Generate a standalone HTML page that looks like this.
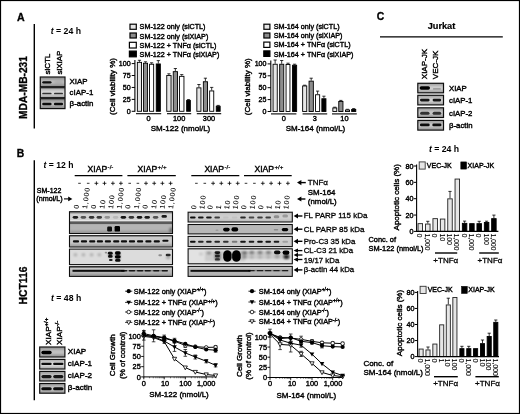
<!DOCTYPE html>
<html lang="en"><head><meta charset="utf-8"><title>Figure</title>
<style>
html,body{margin:0;padding:0;background:#fff;}
body{width:520px;height:414px;overflow:hidden;}
svg{display:block;font-family:"Liberation Sans", sans-serif;}
text{white-space:pre;}
</style></head><body>
<svg width="520" height="414" viewBox="0 0 520 414">
<defs>
<filter id="b1" x="-50%" y="-100%" width="200%" height="300%"><feGaussianBlur stdDeviation="0.45"/></filter>
<filter id="b2" x="-50%" y="-100%" width="200%" height="300%"><feGaussianBlur stdDeviation="0.8"/></filter>
<filter id="b3" x="-50%" y="-100%" width="200%" height="300%"><feGaussianBlur stdDeviation="1.3"/></filter>
<filter id="tb" x="-5%" y="-5%" width="110%" height="110%"><feGaussianBlur stdDeviation="0.35"/></filter>
</defs>
<rect x="0" y="0" width="520" height="414" fill="#fff"/>
<rect x="0.5" y="0.5" width="519" height="413" fill="none" stroke="#000" stroke-width="1.2"/>
<g filter="url(#tb)">

<text x="16.90" y="20.99" font-size="10.6" font-weight="bold" stroke="#000" stroke-width="0.3">A</text>
<line x1="34.30" y1="24.00" x2="34.30" y2="128.50" stroke="#000" stroke-width="1.4" />
<text transform="translate(23.00,87.50) rotate(-90)" x="0" y="3.65" font-size="10.2" text-anchor="middle" font-weight="bold" stroke="#000" stroke-width="0.3">MDA-MB-231</text>
<text x="50.80" y="33.91" font-size="8.7" font-weight="bold"><tspan font-style="italic">t</tspan> = 24 h</text>
<text transform="translate(46.90,74.60) rotate(-90)" x="0" y="2.86" font-size="8" stroke="#000" stroke-width="0.4">siCTL</text>
<text transform="translate(58.80,74.60) rotate(-90)" x="0" y="2.86" font-size="8" stroke="#000" stroke-width="0.4">siXIAP</text>
<rect x="40.30" y="77.00" width="24.70" height="9.70" fill="#acacac" stroke="none" stroke-width="1.0" />
<clipPath id="c1"><rect x="40.30" y="77.00" width="24.70" height="9.70"/></clipPath>
<g clip-path="url(#c1)">
<rect x="40.30" y="77.00" width="24.70" height="1.80" fill="#000" stroke="none" stroke-width="1.0" opacity="0.22" filter="url(#b2)"/>
<rect x="40.30" y="84.90" width="24.70" height="1.80" fill="#000" stroke="none" stroke-width="1.0" opacity="0.22" filter="url(#b2)"/>
<rect x="40.30" y="79.91" width="24.70" height="3.88" fill="#fff" stroke="none" stroke-width="1.0" opacity="0.2" filter="url(#b2)"/>
<rect x="42.30" y="81.15" width="9.20" height="2.40" rx="1.20" fill="#000" opacity="0.95" filter="url(#b1)"/>
<rect x="54.50" y="81.45" width="8.00" height="1.60" rx="0.80" fill="#000" opacity="0.15" filter="url(#b2)"/>
</g>
<rect x="40.30" y="77.00" width="24.70" height="9.70" fill="none" stroke="#111" stroke-width="1.2" />
<text x="69.60" y="83.88" font-size="7.9" stroke="#000" stroke-width="0.4">XIAP</text>
<rect x="40.30" y="87.70" width="24.70" height="10.00" fill="#cccccc" stroke="none" stroke-width="1.0" />
<clipPath id="c2"><rect x="40.30" y="87.70" width="24.70" height="10.00"/></clipPath>
<g clip-path="url(#c2)">
<rect x="40.30" y="87.70" width="24.70" height="1.80" fill="#000" stroke="none" stroke-width="1.0" opacity="0.22" filter="url(#b2)"/>
<rect x="40.30" y="95.90" width="24.70" height="1.80" fill="#000" stroke="none" stroke-width="1.0" opacity="0.22" filter="url(#b2)"/>
<rect x="40.30" y="90.70" width="24.70" height="4.00" fill="#fff" stroke="none" stroke-width="1.0" opacity="0.2" filter="url(#b2)"/>
<rect x="42.20" y="92.65" width="9.40" height="1.70" rx="0.85" fill="#000" opacity="0.75" filter="url(#b1)"/>
<rect x="54.00" y="92.65" width="9.00" height="1.70" rx="0.85" fill="#000" opacity="0.75" filter="url(#b1)"/>
</g>
<rect x="40.30" y="87.70" width="24.70" height="10.00" fill="none" stroke="#111" stroke-width="1.2" />
<text x="69.60" y="94.73" font-size="7.9" stroke="#000" stroke-width="0.4">cIAP-1</text>
<rect x="40.30" y="98.70" width="24.70" height="9.90" fill="#a8a8a8" stroke="none" stroke-width="1.0" />
<clipPath id="c3"><rect x="40.30" y="98.70" width="24.70" height="9.90"/></clipPath>
<g clip-path="url(#c3)">
<rect x="40.30" y="98.70" width="24.70" height="1.80" fill="#000" stroke="none" stroke-width="1.0" opacity="0.22" filter="url(#b2)"/>
<rect x="40.30" y="106.80" width="24.70" height="1.80" fill="#000" stroke="none" stroke-width="1.0" opacity="0.22" filter="url(#b2)"/>
<rect x="40.30" y="101.67" width="24.70" height="3.96" fill="#fff" stroke="none" stroke-width="1.0" opacity="0.2" filter="url(#b2)"/>
<rect x="42.20" y="102.65" width="9.40" height="2.60" rx="1.30" fill="#000" opacity="0.95" filter="url(#b1)"/>
<rect x="53.90" y="102.65" width="9.20" height="2.60" rx="1.30" fill="#000" opacity="0.95" filter="url(#b1)"/>
</g>
<rect x="40.30" y="98.70" width="24.70" height="9.90" fill="none" stroke="#111" stroke-width="1.2" />
<text x="69.60" y="105.68" font-size="7.9" stroke="#000" stroke-width="0.4">β-actin</text>
<line x1="134.90" y1="60.10" x2="134.90" y2="111.80" stroke="#000" stroke-width="1.1" />
<line x1="131.70" y1="63.60" x2="134.90" y2="63.60" stroke="#000" stroke-width="1.0" />
<text x="130.60" y="66.14" font-size="7.1" text-anchor="end" stroke="#000" stroke-width="0.4">100</text>
<line x1="131.70" y1="75.53" x2="134.90" y2="75.53" stroke="#000" stroke-width="1.0" />
<text x="130.60" y="78.07" font-size="7.1" text-anchor="end" stroke="#000" stroke-width="0.4">75</text>
<line x1="131.70" y1="87.45" x2="134.90" y2="87.45" stroke="#000" stroke-width="1.0" />
<text x="130.60" y="89.99" font-size="7.1" text-anchor="end" stroke="#000" stroke-width="0.4">50</text>
<line x1="131.70" y1="99.38" x2="134.90" y2="99.38" stroke="#000" stroke-width="1.0" />
<text x="130.60" y="101.92" font-size="7.1" text-anchor="end" stroke="#000" stroke-width="0.4">25</text>
<line x1="131.70" y1="111.30" x2="134.90" y2="111.30" stroke="#000" stroke-width="1.0" />
<text x="130.60" y="113.84" font-size="7.1" text-anchor="end" stroke="#000" stroke-width="0.4">0</text>
<line x1="139.45" y1="60.30" x2="139.45" y2="61.90" stroke="#000" stroke-width="0.8" />
<line x1="137.85" y1="60.30" x2="141.05" y2="60.30" stroke="#000" stroke-width="0.8" />
<rect x="137.35" y="62.35" width="4.20" height="48.95" fill="#e6e6e6" stroke="#000" stroke-width="0.9" />
<line x1="145.50" y1="61.80" x2="145.50" y2="62.80" stroke="#000" stroke-width="0.8" />
<line x1="143.90" y1="61.80" x2="147.10" y2="61.80" stroke="#000" stroke-width="0.8" />
<rect x="143.45" y="63.25" width="4.10" height="48.05" fill="#8c8c8c" stroke="#000" stroke-width="0.9" />
<line x1="151.60" y1="62.80" x2="151.60" y2="63.80" stroke="#000" stroke-width="0.8" />
<line x1="150.00" y1="62.80" x2="153.20" y2="62.80" stroke="#000" stroke-width="0.8" />
<rect x="149.55" y="64.25" width="4.10" height="47.05" fill="#fff" stroke="#000" stroke-width="0.9" />
<line x1="158.30" y1="60.60" x2="158.30" y2="63.50" stroke="#000" stroke-width="0.8" />
<line x1="156.70" y1="60.60" x2="159.90" y2="60.60" stroke="#000" stroke-width="0.8" />
<rect x="156.25" y="63.95" width="4.10" height="47.35" fill="#000" stroke="#000" stroke-width="0.9" />
<line x1="168.90" y1="73.80" x2="168.90" y2="75.00" stroke="#000" stroke-width="0.8" />
<line x1="167.30" y1="73.80" x2="170.50" y2="73.80" stroke="#000" stroke-width="0.8" />
<rect x="166.75" y="75.45" width="4.30" height="35.85" fill="#e6e6e6" stroke="#000" stroke-width="0.9" />
<line x1="175.35" y1="68.50" x2="175.35" y2="71.20" stroke="#000" stroke-width="0.8" />
<line x1="173.75" y1="68.50" x2="176.95" y2="68.50" stroke="#000" stroke-width="0.8" />
<rect x="173.25" y="71.65" width="4.20" height="39.65" fill="#8c8c8c" stroke="#000" stroke-width="0.9" />
<line x1="181.75" y1="74.60" x2="181.75" y2="75.90" stroke="#000" stroke-width="0.8" />
<line x1="180.15" y1="74.60" x2="183.35" y2="74.60" stroke="#000" stroke-width="0.8" />
<rect x="179.55" y="76.35" width="4.40" height="34.95" fill="#fff" stroke="#000" stroke-width="0.9" />
<line x1="188.50" y1="99.60" x2="188.50" y2="100.00" stroke="#000" stroke-width="0.8" />
<line x1="186.90" y1="99.60" x2="190.10" y2="99.60" stroke="#000" stroke-width="0.8" />
<rect x="186.65" y="100.45" width="3.70" height="10.85" fill="#000" stroke="#000" stroke-width="0.9" />
<line x1="198.90" y1="84.50" x2="198.90" y2="87.40" stroke="#000" stroke-width="0.8" />
<line x1="197.30" y1="84.50" x2="200.50" y2="84.50" stroke="#000" stroke-width="0.8" />
<rect x="196.85" y="87.85" width="4.10" height="23.45" fill="#e6e6e6" stroke="#000" stroke-width="0.9" />
<line x1="205.40" y1="78.20" x2="205.40" y2="81.30" stroke="#000" stroke-width="0.8" />
<line x1="203.80" y1="78.20" x2="207.00" y2="78.20" stroke="#000" stroke-width="0.8" />
<rect x="203.35" y="81.75" width="4.10" height="29.55" fill="#8c8c8c" stroke="#000" stroke-width="0.9" />
<line x1="211.70" y1="87.40" x2="211.70" y2="90.50" stroke="#000" stroke-width="0.8" />
<line x1="210.10" y1="87.40" x2="213.30" y2="87.40" stroke="#000" stroke-width="0.8" />
<rect x="209.65" y="90.95" width="4.10" height="20.35" fill="#fff" stroke="#000" stroke-width="0.9" />
<line x1="218.20" y1="105.40" x2="218.20" y2="105.80" stroke="#000" stroke-width="0.8" />
<line x1="216.60" y1="105.40" x2="219.80" y2="105.40" stroke="#000" stroke-width="0.8" />
<rect x="216.25" y="106.25" width="3.90" height="5.05" fill="#000" stroke="#000" stroke-width="0.9" />
<line x1="136.00" y1="113.70" x2="161.20" y2="113.70" stroke="#000" stroke-width="1.1" />
<text x="148.60" y="121.15" font-size="7.4" text-anchor="middle" stroke="#000" stroke-width="0.4">0</text>
<line x1="167.00" y1="113.70" x2="191.20" y2="113.70" stroke="#000" stroke-width="1.1" />
<text x="179.10" y="121.15" font-size="7.4" text-anchor="middle" stroke="#000" stroke-width="0.4">100</text>
<line x1="196.80" y1="113.70" x2="221.20" y2="113.70" stroke="#000" stroke-width="1.1" />
<text x="209.00" y="121.15" font-size="7.4" text-anchor="middle" stroke="#000" stroke-width="0.4">300</text>
<text x="180.50" y="131.16" font-size="8" text-anchor="middle" stroke="#000" stroke-width="0.4">SM-122 (nmol/L)</text>
<text transform="translate(112.60,86.45) rotate(-90)" x="0" y="2.86" font-size="8" text-anchor="middle" stroke="#000" stroke-width="0.4">(Cell viability %)</text>
<rect x="130.00" y="24.20" width="6.30" height="5.10" fill="#e6e6e6" stroke="#000" stroke-width="1.2" />
<text x="139.60" y="29.48" font-size="7.2" stroke="#000" stroke-width="0.4">SM-122 only (siCTL)</text>
<rect x="130.00" y="33.00" width="6.30" height="5.00" fill="#8c8c8c" stroke="#000" stroke-width="1.2" />
<text x="139.60" y="38.78" font-size="7.2" stroke="#000" stroke-width="0.4">SM-122 only (siXIAP)</text>
<rect x="129.40" y="42.30" width="6.90" height="5.70" fill="#fff" stroke="#000" stroke-width="1.2" />
<text x="139.60" y="48.28" font-size="7.2" stroke="#000" stroke-width="0.4">SM-122 + TNFα (siCTL)</text>
<rect x="129.40" y="51.10" width="6.90" height="5.70" fill="#000" stroke="#000" stroke-width="1.2" />
<text x="139.60" y="56.98" font-size="7.2" stroke="#000" stroke-width="0.4">SM-122 + TNFα (siXIAP)</text>
<line x1="270.80" y1="60.40" x2="270.80" y2="112.00" stroke="#000" stroke-width="1.1" />
<line x1="267.60" y1="63.90" x2="270.80" y2="63.90" stroke="#000" stroke-width="1.0" />
<text x="266.50" y="66.44" font-size="7.1" text-anchor="end" stroke="#000" stroke-width="0.4">100</text>
<line x1="267.60" y1="75.80" x2="270.80" y2="75.80" stroke="#000" stroke-width="1.0" />
<text x="266.50" y="78.34" font-size="7.1" text-anchor="end" stroke="#000" stroke-width="0.4">75</text>
<line x1="267.60" y1="87.70" x2="270.80" y2="87.70" stroke="#000" stroke-width="1.0" />
<text x="266.50" y="90.24" font-size="7.1" text-anchor="end" stroke="#000" stroke-width="0.4">50</text>
<line x1="267.60" y1="99.60" x2="270.80" y2="99.60" stroke="#000" stroke-width="1.0" />
<text x="266.50" y="102.14" font-size="7.1" text-anchor="end" stroke="#000" stroke-width="0.4">25</text>
<line x1="267.60" y1="111.50" x2="270.80" y2="111.50" stroke="#000" stroke-width="1.0" />
<text x="266.50" y="114.04" font-size="7.1" text-anchor="end" stroke="#000" stroke-width="0.4">0</text>
<line x1="275.15" y1="60.00" x2="275.15" y2="63.80" stroke="#000" stroke-width="0.8" />
<line x1="273.55" y1="60.00" x2="276.75" y2="60.00" stroke="#000" stroke-width="0.8" />
<rect x="273.05" y="64.25" width="4.20" height="47.25" fill="#e6e6e6" stroke="#000" stroke-width="0.9" />
<line x1="281.70" y1="60.50" x2="281.70" y2="63.80" stroke="#000" stroke-width="0.8" />
<line x1="280.10" y1="60.50" x2="283.30" y2="60.50" stroke="#000" stroke-width="0.8" />
<rect x="279.65" y="64.25" width="4.10" height="47.25" fill="#8c8c8c" stroke="#000" stroke-width="0.9" />
<line x1="288.00" y1="63.20" x2="288.00" y2="64.00" stroke="#000" stroke-width="0.8" />
<line x1="286.40" y1="63.20" x2="289.60" y2="63.20" stroke="#000" stroke-width="0.8" />
<rect x="286.05" y="64.45" width="3.90" height="47.05" fill="#fff" stroke="#000" stroke-width="0.9" />
<line x1="294.60" y1="64.20" x2="294.60" y2="64.80" stroke="#000" stroke-width="0.8" />
<line x1="293.00" y1="64.20" x2="296.20" y2="64.20" stroke="#000" stroke-width="0.8" />
<rect x="292.55" y="65.25" width="4.10" height="46.25" fill="#000" stroke="#000" stroke-width="0.9" />
<line x1="304.70" y1="85.20" x2="304.70" y2="85.50" stroke="#000" stroke-width="0.8" />
<line x1="303.10" y1="85.20" x2="306.30" y2="85.20" stroke="#000" stroke-width="0.8" />
<rect x="302.65" y="85.95" width="4.10" height="25.55" fill="#e6e6e6" stroke="#000" stroke-width="0.9" />
<line x1="311.20" y1="78.20" x2="311.20" y2="80.70" stroke="#000" stroke-width="0.8" />
<line x1="309.60" y1="78.20" x2="312.80" y2="78.20" stroke="#000" stroke-width="0.8" />
<rect x="309.05" y="81.15" width="4.30" height="30.35" fill="#8c8c8c" stroke="#000" stroke-width="0.9" />
<line x1="317.60" y1="91.10" x2="317.60" y2="94.30" stroke="#000" stroke-width="0.8" />
<line x1="316.00" y1="91.10" x2="319.20" y2="91.10" stroke="#000" stroke-width="0.8" />
<rect x="315.55" y="94.75" width="4.10" height="16.75" fill="#fff" stroke="#000" stroke-width="0.9" />
<line x1="323.90" y1="96.20" x2="323.90" y2="98.30" stroke="#000" stroke-width="0.8" />
<line x1="322.30" y1="96.20" x2="325.50" y2="96.20" stroke="#000" stroke-width="0.8" />
<rect x="321.85" y="98.75" width="4.10" height="12.75" fill="#000" stroke="#000" stroke-width="0.9" />
<line x1="334.80" y1="107.20" x2="334.80" y2="107.50" stroke="#000" stroke-width="0.8" />
<line x1="333.20" y1="107.20" x2="336.40" y2="107.20" stroke="#000" stroke-width="0.8" />
<rect x="332.85" y="107.95" width="3.90" height="3.55" fill="#e6e6e6" stroke="#000" stroke-width="0.9" />
<line x1="340.85" y1="100.40" x2="340.85" y2="101.00" stroke="#000" stroke-width="0.8" />
<line x1="339.25" y1="100.40" x2="342.45" y2="100.40" stroke="#000" stroke-width="0.8" />
<rect x="338.75" y="101.45" width="4.20" height="10.05" fill="#8c8c8c" stroke="#000" stroke-width="0.9" />
<line x1="347.50" y1="109.30" x2="347.50" y2="109.60" stroke="#000" stroke-width="0.8" />
<line x1="345.90" y1="109.30" x2="349.10" y2="109.30" stroke="#000" stroke-width="0.8" />
<rect x="345.45" y="110.05" width="4.10" height="1.45" fill="#fff" stroke="#000" stroke-width="0.9" />
<line x1="353.70" y1="108.60" x2="353.70" y2="109.00" stroke="#000" stroke-width="0.8" />
<line x1="352.10" y1="108.60" x2="355.30" y2="108.60" stroke="#000" stroke-width="0.8" />
<rect x="351.65" y="109.45" width="4.10" height="2.05" fill="#000" stroke="#000" stroke-width="0.9" />
<line x1="271.00" y1="113.90" x2="296.40" y2="113.90" stroke="#000" stroke-width="1.1" />
<text x="283.70" y="121.35" font-size="7.4" text-anchor="middle" stroke="#000" stroke-width="0.4">0</text>
<line x1="302.60" y1="113.90" x2="327.20" y2="113.90" stroke="#000" stroke-width="1.1" />
<text x="314.90" y="121.35" font-size="7.4" text-anchor="middle" stroke="#000" stroke-width="0.4">3</text>
<line x1="332.00" y1="113.90" x2="356.80" y2="113.90" stroke="#000" stroke-width="1.1" />
<text x="344.40" y="121.35" font-size="7.4" text-anchor="middle" stroke="#000" stroke-width="0.4">10</text>
<text x="315.50" y="131.36" font-size="8" text-anchor="middle" stroke="#000" stroke-width="0.4">SM-164 (nmol/L)</text>
<text transform="translate(247.40,86.70) rotate(-90)" x="0" y="2.86" font-size="8" text-anchor="middle" stroke="#000" stroke-width="0.4">(Cell viability %)</text>
<rect x="263.90" y="24.20" width="6.00" height="5.10" fill="#e6e6e6" stroke="#000" stroke-width="1.2" />
<text x="273.70" y="29.33" font-size="7.2" stroke="#000" stroke-width="0.4">SM-164 only (siCTL)</text>
<rect x="263.90" y="33.00" width="6.00" height="5.00" fill="#8c8c8c" stroke="#000" stroke-width="1.2" />
<text x="273.70" y="38.33" font-size="7.2" stroke="#000" stroke-width="0.4">SM-164 only (siXIAP)</text>
<rect x="263.80" y="42.10" width="6.10" height="5.30" fill="#fff" stroke="#000" stroke-width="1.2" />
<text x="273.70" y="47.48" font-size="7.2" stroke="#000" stroke-width="0.4">SM-164 + TNFα (siCTL)</text>
<rect x="263.80" y="50.90" width="6.10" height="5.50" fill="#000" stroke="#000" stroke-width="1.2" />
<text x="273.70" y="56.58" font-size="7.2" stroke="#000" stroke-width="0.4">SM-164 + TNFα (siXIAP)</text>
<text x="376.80" y="20.02" font-size="10.4" font-weight="bold" stroke="#000" stroke-width="0.3">C</text>
<text x="441.50" y="28.89" font-size="9.2" text-anchor="middle" font-weight="bold" stroke="#000" stroke-width="0.2">Jurkat</text>
<line x1="380.00" y1="36.80" x2="502.80" y2="36.80" stroke="#000" stroke-width="1.2" />
<text transform="translate(424.00,79.20) rotate(-90)" x="0" y="2.86" font-size="8" stroke="#000" stroke-width="0.4">XIAP-JK</text>
<text transform="translate(434.80,79.20) rotate(-90)" x="0" y="2.86" font-size="8" stroke="#000" stroke-width="0.4">VEC-JK</text>
<rect x="417.80" y="83.30" width="25.70" height="9.50" fill="#c2c2c2" stroke="none" stroke-width="1.0" />
<clipPath id="c4"><rect x="417.80" y="83.30" width="25.70" height="9.50"/></clipPath>
<g clip-path="url(#c4)">
<rect x="417.80" y="83.30" width="25.70" height="1.80" fill="#000" stroke="none" stroke-width="1.0" opacity="0.22" filter="url(#b2)"/>
<rect x="417.80" y="91.00" width="25.70" height="1.80" fill="#000" stroke="none" stroke-width="1.0" opacity="0.22" filter="url(#b2)"/>
<rect x="417.80" y="86.15" width="25.70" height="3.80" fill="#fff" stroke="none" stroke-width="1.0" opacity="0.2" filter="url(#b2)"/>
<rect x="419.60" y="86.35" width="10.40" height="3.40" rx="1.70" fill="#000" opacity="1.0" filter="url(#b1)"/>
<rect x="432.90" y="88.35" width="8.00" height="1.20" rx="0.60" fill="#000" opacity="0.3" filter="url(#b1)"/>
</g>
<rect x="417.80" y="83.30" width="25.70" height="9.50" fill="none" stroke="#111" stroke-width="1.2" />
<text x="449.00" y="90.94" font-size="7.8" stroke="#000" stroke-width="0.4">XIAP</text>
<rect x="417.80" y="95.30" width="25.70" height="9.60" fill="#c6c6c6" stroke="none" stroke-width="1.0" />
<clipPath id="c5"><rect x="417.80" y="95.30" width="25.70" height="9.60"/></clipPath>
<g clip-path="url(#c5)">
<rect x="417.80" y="95.30" width="25.70" height="1.80" fill="#000" stroke="none" stroke-width="1.0" opacity="0.22" filter="url(#b2)"/>
<rect x="417.80" y="103.10" width="25.70" height="1.80" fill="#000" stroke="none" stroke-width="1.0" opacity="0.22" filter="url(#b2)"/>
<rect x="417.80" y="98.18" width="25.70" height="3.84" fill="#fff" stroke="none" stroke-width="1.0" opacity="0.2" filter="url(#b2)"/>
<rect x="420.00" y="98.80" width="9.60" height="2.60" rx="1.30" fill="#000" opacity="0.9" filter="url(#b1)"/>
<rect x="432.60" y="98.80" width="8.60" height="2.60" rx="1.30" fill="#000" opacity="0.9" filter="url(#b1)"/>
</g>
<rect x="417.80" y="95.30" width="25.70" height="9.60" fill="none" stroke="#111" stroke-width="1.2" />
<text x="449.00" y="102.99" font-size="7.8" stroke="#000" stroke-width="0.4">cIAP-1</text>
<rect x="417.80" y="107.80" width="25.70" height="9.70" fill="#b8b8b8" stroke="none" stroke-width="1.0" />
<clipPath id="c6"><rect x="417.80" y="107.80" width="25.70" height="9.70"/></clipPath>
<g clip-path="url(#c6)">
<rect x="417.80" y="107.80" width="25.70" height="1.80" fill="#000" stroke="none" stroke-width="1.0" opacity="0.22" filter="url(#b2)"/>
<rect x="417.80" y="115.70" width="25.70" height="1.80" fill="#000" stroke="none" stroke-width="1.0" opacity="0.22" filter="url(#b2)"/>
<rect x="417.80" y="110.71" width="25.70" height="3.88" fill="#fff" stroke="none" stroke-width="1.0" opacity="0.2" filter="url(#b2)"/>
<rect x="420.10" y="111.65" width="9.40" height="3.00" rx="1.50" fill="#000" opacity="0.75" filter="url(#b1)"/>
<rect x="432.60" y="111.65" width="8.60" height="3.00" rx="1.50" fill="#000" opacity="0.75" filter="url(#b1)"/>
</g>
<rect x="417.80" y="107.80" width="25.70" height="9.70" fill="none" stroke="#111" stroke-width="1.2" />
<text x="449.00" y="115.54" font-size="7.8" stroke="#000" stroke-width="0.4">cIAP-2</text>
<rect x="417.80" y="120.40" width="25.70" height="9.70" fill="#bababa" stroke="none" stroke-width="1.0" />
<clipPath id="c7"><rect x="417.80" y="120.40" width="25.70" height="9.70"/></clipPath>
<g clip-path="url(#c7)">
<rect x="417.80" y="120.40" width="25.70" height="1.80" fill="#000" stroke="none" stroke-width="1.0" opacity="0.22" filter="url(#b2)"/>
<rect x="417.80" y="128.30" width="25.70" height="1.80" fill="#000" stroke="none" stroke-width="1.0" opacity="0.22" filter="url(#b2)"/>
<rect x="417.80" y="123.31" width="25.70" height="3.88" fill="#fff" stroke="none" stroke-width="1.0" opacity="0.2" filter="url(#b2)"/>
<rect x="419.90" y="123.55" width="9.80" height="2.80" rx="1.40" fill="#000" opacity="0.95" filter="url(#b1)"/>
<rect x="432.30" y="123.55" width="9.20" height="2.80" rx="1.40" fill="#000" opacity="0.95" filter="url(#b1)"/>
</g>
<rect x="417.80" y="120.40" width="25.70" height="9.70" fill="none" stroke="#111" stroke-width="1.2" />
<text x="449.00" y="128.14" font-size="7.8" stroke="#000" stroke-width="0.4">β-actin</text>
<text x="428.90" y="151.51" font-size="8.7" font-weight="bold"><tspan font-style="italic">t</tspan> = 24 h</text>
<line x1="416.60" y1="164.50" x2="416.60" y2="231.90" stroke="#000" stroke-width="1.1" />
<line x1="413.80" y1="166.00" x2="416.60" y2="166.00" stroke="#000" stroke-width="1.0" />
<text x="413.40" y="168.58" font-size="7.2" text-anchor="end" stroke="#000" stroke-width="0.4">80</text>
<line x1="413.80" y1="182.35" x2="416.60" y2="182.35" stroke="#000" stroke-width="1.0" />
<text x="413.40" y="184.93" font-size="7.2" text-anchor="end" stroke="#000" stroke-width="0.4">60</text>
<line x1="413.80" y1="198.70" x2="416.60" y2="198.70" stroke="#000" stroke-width="1.0" />
<text x="413.40" y="201.28" font-size="7.2" text-anchor="end" stroke="#000" stroke-width="0.4">40</text>
<line x1="413.80" y1="215.05" x2="416.60" y2="215.05" stroke="#000" stroke-width="1.0" />
<text x="413.40" y="217.63" font-size="7.2" text-anchor="end" stroke="#000" stroke-width="0.4">20</text>
<line x1="413.80" y1="231.40" x2="416.60" y2="231.40" stroke="#000" stroke-width="1.0" />
<text x="413.40" y="233.98" font-size="7.2" text-anchor="end" stroke="#000" stroke-width="0.4">0</text>
<rect x="418.05" y="223.65" width="4.50" height="7.75" fill="#e6e6e6" stroke="#222" stroke-width="0.9" />
<line x1="427.80" y1="221.30" x2="427.80" y2="223.60" stroke="#000" stroke-width="0.8" />
<line x1="426.20" y1="221.30" x2="429.40" y2="221.30" stroke="#000" stroke-width="0.8" />
<rect x="425.55" y="224.05" width="4.50" height="7.35" fill="#e6e6e6" stroke="#222" stroke-width="0.9" />
<rect x="432.95" y="218.65" width="4.50" height="12.75" fill="#e6e6e6" stroke="#222" stroke-width="0.9" />
<rect x="440.35" y="219.05" width="4.50" height="12.35" fill="#e6e6e6" stroke="#222" stroke-width="0.9" />
<line x1="450.00" y1="191.40" x2="450.00" y2="198.40" stroke="#000" stroke-width="0.8" />
<line x1="448.40" y1="191.40" x2="451.60" y2="191.40" stroke="#000" stroke-width="0.8" />
<rect x="447.75" y="198.85" width="4.50" height="32.55" fill="#e6e6e6" stroke="#222" stroke-width="0.9" />
<rect x="455.05" y="179.05" width="4.50" height="52.35" fill="#e6e6e6" stroke="#222" stroke-width="0.9" />
<line x1="464.60" y1="221.10" x2="464.60" y2="222.90" stroke="#000" stroke-width="0.8" />
<line x1="463.00" y1="221.10" x2="466.20" y2="221.10" stroke="#000" stroke-width="0.8" />
<rect x="462.35" y="223.35" width="4.50" height="8.05" fill="#000" stroke="#000" stroke-width="0.9" />
<rect x="469.65" y="223.65" width="4.50" height="7.75" fill="#000" stroke="#000" stroke-width="0.9" />
<line x1="479.20" y1="221.30" x2="479.20" y2="223.20" stroke="#000" stroke-width="0.8" />
<line x1="477.60" y1="221.30" x2="480.80" y2="221.30" stroke="#000" stroke-width="0.8" />
<rect x="476.95" y="223.65" width="4.50" height="7.75" fill="#000" stroke="#000" stroke-width="0.9" />
<line x1="486.60" y1="221.20" x2="486.60" y2="222.00" stroke="#000" stroke-width="0.8" />
<line x1="485.00" y1="221.20" x2="488.20" y2="221.20" stroke="#000" stroke-width="0.8" />
<rect x="484.35" y="222.45" width="4.50" height="8.95" fill="#000" stroke="#000" stroke-width="0.9" />
<line x1="493.90" y1="215.10" x2="493.90" y2="218.20" stroke="#000" stroke-width="0.8" />
<line x1="492.30" y1="215.10" x2="495.50" y2="215.10" stroke="#000" stroke-width="0.8" />
<rect x="491.65" y="218.65" width="4.50" height="12.75" fill="#000" stroke="#000" stroke-width="0.9" />
<line x1="416.60" y1="231.40" x2="498.40" y2="231.40" stroke="#000" stroke-width="1.1" />
<text transform="translate(420.10,233.40) rotate(90)" x="0" y="2.61" font-size="7.3" stroke="#000" stroke-width="0.1" letter-spacing="-0.3">0</text>
<text transform="translate(427.60,233.40) rotate(90)" x="0" y="2.61" font-size="7.3" stroke="#000" stroke-width="0.1" letter-spacing="-0.3">1,000</text>
<text transform="translate(435.00,233.40) rotate(90)" x="0" y="2.61" font-size="7.3" stroke="#000" stroke-width="0.1" letter-spacing="-0.3">0</text>
<text transform="translate(442.40,233.40) rotate(90)" x="0" y="2.61" font-size="7.3" stroke="#000" stroke-width="0.1" letter-spacing="-0.3">10</text>
<text transform="translate(449.80,233.40) rotate(90)" x="0" y="2.61" font-size="7.3" stroke="#000" stroke-width="0.1" letter-spacing="-0.3">100</text>
<text transform="translate(457.10,233.40) rotate(90)" x="0" y="2.61" font-size="7.3" stroke="#000" stroke-width="0.1" letter-spacing="-0.3">1,000</text>
<text transform="translate(464.40,233.40) rotate(90)" x="0" y="2.61" font-size="7.3" stroke="#000" stroke-width="0.1" letter-spacing="-0.3">0</text>
<text transform="translate(471.70,233.40) rotate(90)" x="0" y="2.61" font-size="7.3" stroke="#000" stroke-width="0.1" letter-spacing="-0.3">1,000</text>
<text transform="translate(479.00,233.40) rotate(90)" x="0" y="2.61" font-size="7.3" stroke="#000" stroke-width="0.1" letter-spacing="-0.3">0</text>
<text transform="translate(486.40,233.40) rotate(90)" x="0" y="2.61" font-size="7.3" stroke="#000" stroke-width="0.1" letter-spacing="-0.3">100</text>
<text transform="translate(493.70,233.40) rotate(90)" x="0" y="2.61" font-size="7.3" stroke="#000" stroke-width="0.1" letter-spacing="-0.3">1,000</text>
<text transform="translate(396.20,197.30) rotate(-90)" x="0" y="2.86" font-size="8" text-anchor="middle" stroke="#000" stroke-width="0.4">Apoptotic cells (%)</text>
<rect x="419.20" y="161.90" width="6.00" height="7.20" fill="#e6e6e6" stroke="#333" stroke-width="0.9" />
<text x="426.80" y="168.01" font-size="7.0" stroke="#000" stroke-width="0.4">VEC-JK</text>
<rect x="460.80" y="161.90" width="5.80" height="7.20" fill="#000" stroke="#000" stroke-width="0.5" />
<text x="467.60" y="168.01" font-size="7.0" stroke="#000" stroke-width="0.4">XIAP-JK</text>
<text x="368.50" y="242.05" font-size="7.4" stroke="#000" stroke-width="0.4">Conc. of</text>
<text x="368.50" y="250.65" font-size="7.4" stroke="#000" stroke-width="0.4">SM-122 (nmol/L)</text>
<line x1="435.00" y1="253.00" x2="457.20" y2="253.00" stroke="#000" stroke-width="1.4" />
<line x1="479.20" y1="253.00" x2="498.80" y2="253.00" stroke="#000" stroke-width="1.4" />
<text x="445.80" y="262.66" font-size="8" text-anchor="middle" stroke="#000" stroke-width="0.3">+TNFα</text>
<text x="490.00" y="262.66" font-size="8" text-anchor="middle" stroke="#000" stroke-width="0.3">+TNFα</text>
<line x1="417.60" y1="290.90" x2="417.60" y2="357.10" stroke="#000" stroke-width="1.1" />
<line x1="414.80" y1="292.40" x2="417.60" y2="292.40" stroke="#000" stroke-width="1.0" />
<text x="414.40" y="294.98" font-size="7.2" text-anchor="end" stroke="#000" stroke-width="0.4">80</text>
<line x1="414.80" y1="308.45" x2="417.60" y2="308.45" stroke="#000" stroke-width="1.0" />
<text x="414.40" y="311.03" font-size="7.2" text-anchor="end" stroke="#000" stroke-width="0.4">60</text>
<line x1="414.80" y1="324.50" x2="417.60" y2="324.50" stroke="#000" stroke-width="1.0" />
<text x="414.40" y="327.08" font-size="7.2" text-anchor="end" stroke="#000" stroke-width="0.4">40</text>
<line x1="414.80" y1="340.55" x2="417.60" y2="340.55" stroke="#000" stroke-width="1.0" />
<text x="414.40" y="343.13" font-size="7.2" text-anchor="end" stroke="#000" stroke-width="0.4">20</text>
<line x1="414.80" y1="356.60" x2="417.60" y2="356.60" stroke="#000" stroke-width="1.0" />
<text x="414.40" y="359.18" font-size="7.2" text-anchor="end" stroke="#000" stroke-width="0.4">0</text>
<rect x="419.05" y="349.05" width="4.10" height="7.55" fill="#e6e6e6" stroke="#222" stroke-width="0.9" />
<line x1="428.00" y1="347.00" x2="428.00" y2="349.50" stroke="#000" stroke-width="0.8" />
<line x1="426.40" y1="347.00" x2="429.60" y2="347.00" stroke="#000" stroke-width="0.8" />
<rect x="425.95" y="349.95" width="4.10" height="6.65" fill="#e6e6e6" stroke="#222" stroke-width="0.9" />
<rect x="432.85" y="344.05" width="4.10" height="12.55" fill="#e6e6e6" stroke="#222" stroke-width="0.9" />
<rect x="439.65" y="324.85" width="4.10" height="31.75" fill="#e6e6e6" stroke="#222" stroke-width="0.9" />
<line x1="448.30" y1="298.20" x2="448.30" y2="304.50" stroke="#000" stroke-width="0.8" />
<line x1="446.70" y1="298.20" x2="449.90" y2="298.20" stroke="#000" stroke-width="0.8" />
<rect x="446.25" y="304.95" width="4.10" height="51.65" fill="#e6e6e6" stroke="#222" stroke-width="0.9" />
<rect x="452.85" y="297.45" width="4.10" height="59.15" fill="#e6e6e6" stroke="#222" stroke-width="0.9" />
<line x1="461.90" y1="346.30" x2="461.90" y2="348.20" stroke="#000" stroke-width="0.8" />
<line x1="460.30" y1="346.30" x2="463.50" y2="346.30" stroke="#000" stroke-width="0.8" />
<rect x="459.85" y="348.65" width="4.10" height="7.95" fill="#000" stroke="#000" stroke-width="0.9" />
<line x1="468.80" y1="346.30" x2="468.80" y2="348.20" stroke="#000" stroke-width="0.8" />
<line x1="467.20" y1="346.30" x2="470.40" y2="346.30" stroke="#000" stroke-width="0.8" />
<rect x="466.75" y="348.65" width="4.10" height="7.95" fill="#000" stroke="#000" stroke-width="0.9" />
<rect x="473.55" y="348.65" width="4.10" height="7.95" fill="#000" stroke="#000" stroke-width="0.9" />
<line x1="482.50" y1="340.00" x2="482.50" y2="343.20" stroke="#000" stroke-width="0.8" />
<line x1="480.90" y1="340.00" x2="484.10" y2="340.00" stroke="#000" stroke-width="0.8" />
<rect x="480.45" y="343.65" width="4.10" height="12.95" fill="#000" stroke="#000" stroke-width="0.9" />
<line x1="489.20" y1="333.20" x2="489.20" y2="336.00" stroke="#000" stroke-width="0.8" />
<line x1="487.60" y1="333.20" x2="490.80" y2="333.20" stroke="#000" stroke-width="0.8" />
<rect x="487.15" y="336.45" width="4.10" height="20.15" fill="#000" stroke="#000" stroke-width="0.9" />
<line x1="495.80" y1="320.00" x2="495.80" y2="321.90" stroke="#000" stroke-width="0.8" />
<line x1="494.20" y1="320.00" x2="497.40" y2="320.00" stroke="#000" stroke-width="0.8" />
<rect x="493.75" y="322.35" width="4.10" height="34.25" fill="#000" stroke="#000" stroke-width="0.9" />
<line x1="417.60" y1="356.60" x2="499.00" y2="356.60" stroke="#000" stroke-width="1.1" />
<text transform="translate(420.90,358.60) rotate(90)" x="0" y="2.65" font-size="7.3999999999999995" stroke="#000" stroke-width="0.1" letter-spacing="-0.3">0</text>
<text transform="translate(427.80,358.60) rotate(90)" x="0" y="2.65" font-size="7.3999999999999995" stroke="#000" stroke-width="0.1" letter-spacing="-0.3">1,000</text>
<text transform="translate(434.70,358.60) rotate(90)" x="0" y="2.65" font-size="7.3999999999999995" stroke="#000" stroke-width="0.1" letter-spacing="-0.3">0</text>
<text transform="translate(441.50,358.60) rotate(90)" x="0" y="2.65" font-size="7.3999999999999995" stroke="#000" stroke-width="0.1" letter-spacing="-0.3">1</text>
<text transform="translate(448.10,358.60) rotate(90)" x="0" y="2.65" font-size="7.3999999999999995" stroke="#000" stroke-width="0.1" letter-spacing="-0.3">10</text>
<text transform="translate(454.70,358.60) rotate(90)" x="0" y="2.65" font-size="7.3999999999999995" stroke="#000" stroke-width="0.1" letter-spacing="-0.3">100</text>
<text transform="translate(461.70,358.60) rotate(90)" x="0" y="2.65" font-size="7.3999999999999995" stroke="#000" stroke-width="0.1" letter-spacing="-0.3">0</text>
<text transform="translate(468.60,358.60) rotate(90)" x="0" y="2.65" font-size="7.3999999999999995" stroke="#000" stroke-width="0.1" letter-spacing="-0.3">1,000</text>
<text transform="translate(475.40,358.60) rotate(90)" x="0" y="2.65" font-size="7.3999999999999995" stroke="#000" stroke-width="0.1" letter-spacing="-0.3">0</text>
<text transform="translate(482.30,358.60) rotate(90)" x="0" y="2.65" font-size="7.3999999999999995" stroke="#000" stroke-width="0.1" letter-spacing="-0.3">10</text>
<text transform="translate(489.00,358.60) rotate(90)" x="0" y="2.65" font-size="7.3999999999999995" stroke="#000" stroke-width="0.1" letter-spacing="-0.3">100</text>
<text transform="translate(495.60,358.60) rotate(90)" x="0" y="2.65" font-size="7.3999999999999995" stroke="#000" stroke-width="0.1" letter-spacing="-0.3">1,000</text>
<text transform="translate(398.80,323.00) rotate(-90)" x="0" y="2.86" font-size="8" text-anchor="middle" stroke="#000" stroke-width="0.4">Apoptotic cells (%)</text>
<rect x="420.10" y="286.30" width="6.00" height="7.20" fill="#e6e6e6" stroke="#333" stroke-width="0.9" />
<text x="427.70" y="292.41" font-size="7.0" stroke="#000" stroke-width="0.4">VEC-JK</text>
<rect x="461.50" y="286.30" width="5.80" height="7.20" fill="#000" stroke="#000" stroke-width="0.5" />
<text x="468.30" y="292.41" font-size="7.0" stroke="#000" stroke-width="0.4">XIAP-JK</text>
<text x="363.40" y="366.46" font-size="8.0" stroke="#000" stroke-width="0.4">Conc. of</text>
<text x="363.40" y="375.06" font-size="8.0" stroke="#000" stroke-width="0.4">SM-164 (nmol/L)</text>
<line x1="434.00" y1="376.70" x2="457.80" y2="376.70" stroke="#000" stroke-width="1.4" />
<line x1="475.40" y1="376.70" x2="498.80" y2="376.70" stroke="#000" stroke-width="1.4" />
<text x="445.60" y="386.46" font-size="8" text-anchor="middle" stroke="#000" stroke-width="0.3">+TNFα</text>
<text x="487.50" y="386.46" font-size="8" text-anchor="middle" stroke="#000" stroke-width="0.3">+TNFα</text>
<text x="16.80" y="157.42" font-size="10.4" font-weight="bold" stroke="#000" stroke-width="0.3">B</text>
<line x1="34.30" y1="160.20" x2="34.30" y2="400.30" stroke="#000" stroke-width="1.4" />
<text transform="translate(23.00,285.50) rotate(-90)" x="0" y="3.69" font-size="10.3" text-anchor="middle" font-weight="bold" stroke="#000" stroke-width="0.3">HCT116</text>
<text x="43.60" y="168.38" font-size="8.6" font-weight="bold"><tspan font-style="italic">t</tspan> = 12 h</text>
<text x="51.00" y="301.11" font-size="8.7" font-weight="bold"><tspan font-style="italic">t</tspan> = 48 h</text>
<text x="87.60" y="172.48" font-size="8.6" stroke="#000" stroke-width="0.4">XIAP</text>
<text x="107.60" y="168.82" font-size="6.2" stroke="#000" stroke-width="0.25">-/-</text>
<line x1="74.70" y1="175.60" x2="122.40" y2="175.60" stroke="#000" stroke-width="1.4" />
<text x="137.60" y="172.48" font-size="8.6" stroke="#000" stroke-width="0.4">XIAP</text>
<text x="157.60" y="168.82" font-size="6.2" stroke="#000" stroke-width="0.25">+/+</text>
<line x1="127.40" y1="175.60" x2="175.80" y2="175.60" stroke="#000" stroke-width="1.4" />
<text x="204.40" y="172.48" font-size="8.6" stroke="#000" stroke-width="0.4">XIAP</text>
<text x="224.40" y="168.82" font-size="6.2" stroke="#000" stroke-width="0.25">-/-</text>
<line x1="191.30" y1="175.60" x2="239.30" y2="175.60" stroke="#000" stroke-width="1.4" />
<text x="254.50" y="172.48" font-size="8.6" stroke="#000" stroke-width="0.4">XIAP</text>
<text x="274.50" y="168.82" font-size="6.2" stroke="#000" stroke-width="0.25">+/+</text>
<line x1="244.00" y1="175.60" x2="291.70" y2="175.60" stroke="#000" stroke-width="1.4" />
<line x1="78.20" y1="183.30" x2="80.80" y2="183.30" stroke="#000" stroke-width="0.8" />
<line x1="86.90" y1="183.30" x2="89.50" y2="183.30" stroke="#000" stroke-width="0.8" />
<line x1="94.50" y1="183.30" x2="98.30" y2="183.30" stroke="#000" stroke-width="0.8" />
<line x1="96.40" y1="181.40" x2="96.40" y2="185.20" stroke="#000" stroke-width="0.8" />
<line x1="102.60" y1="183.30" x2="106.40" y2="183.30" stroke="#000" stroke-width="0.8" />
<line x1="104.50" y1="181.40" x2="104.50" y2="185.20" stroke="#000" stroke-width="0.8" />
<line x1="111.00" y1="183.30" x2="114.80" y2="183.30" stroke="#000" stroke-width="0.8" />
<line x1="112.90" y1="181.40" x2="112.90" y2="185.20" stroke="#000" stroke-width="0.8" />
<line x1="119.00" y1="183.30" x2="122.80" y2="183.30" stroke="#000" stroke-width="0.8" />
<line x1="120.90" y1="181.40" x2="120.90" y2="185.20" stroke="#000" stroke-width="0.8" />
<line x1="128.40" y1="183.30" x2="131.00" y2="183.30" stroke="#000" stroke-width="0.8" />
<line x1="136.60" y1="183.30" x2="139.20" y2="183.30" stroke="#000" stroke-width="0.8" />
<line x1="144.10" y1="183.30" x2="147.90" y2="183.30" stroke="#000" stroke-width="0.8" />
<line x1="146.00" y1="181.40" x2="146.00" y2="185.20" stroke="#000" stroke-width="0.8" />
<line x1="152.30" y1="183.30" x2="156.10" y2="183.30" stroke="#000" stroke-width="0.8" />
<line x1="154.20" y1="181.40" x2="154.20" y2="185.20" stroke="#000" stroke-width="0.8" />
<line x1="160.50" y1="183.30" x2="164.30" y2="183.30" stroke="#000" stroke-width="0.8" />
<line x1="162.40" y1="181.40" x2="162.40" y2="185.20" stroke="#000" stroke-width="0.8" />
<line x1="168.70" y1="183.30" x2="172.50" y2="183.30" stroke="#000" stroke-width="0.8" />
<line x1="170.60" y1="181.40" x2="170.60" y2="185.20" stroke="#000" stroke-width="0.8" />
<line x1="195.10" y1="183.30" x2="197.70" y2="183.30" stroke="#000" stroke-width="0.8" />
<line x1="203.50" y1="183.30" x2="206.10" y2="183.30" stroke="#000" stroke-width="0.8" />
<line x1="211.20" y1="183.30" x2="215.00" y2="183.30" stroke="#000" stroke-width="0.8" />
<line x1="213.10" y1="181.40" x2="213.10" y2="185.20" stroke="#000" stroke-width="0.8" />
<line x1="219.40" y1="183.30" x2="223.20" y2="183.30" stroke="#000" stroke-width="0.8" />
<line x1="221.30" y1="181.40" x2="221.30" y2="185.20" stroke="#000" stroke-width="0.8" />
<line x1="227.60" y1="183.30" x2="231.40" y2="183.30" stroke="#000" stroke-width="0.8" />
<line x1="229.50" y1="181.40" x2="229.50" y2="185.20" stroke="#000" stroke-width="0.8" />
<line x1="235.80" y1="183.30" x2="239.60" y2="183.30" stroke="#000" stroke-width="0.8" />
<line x1="237.70" y1="181.40" x2="237.70" y2="185.20" stroke="#000" stroke-width="0.8" />
<line x1="244.70" y1="183.30" x2="247.30" y2="183.30" stroke="#000" stroke-width="0.8" />
<line x1="253.10" y1="183.30" x2="255.70" y2="183.30" stroke="#000" stroke-width="0.8" />
<line x1="260.90" y1="183.30" x2="264.70" y2="183.30" stroke="#000" stroke-width="0.8" />
<line x1="262.80" y1="181.40" x2="262.80" y2="185.20" stroke="#000" stroke-width="0.8" />
<line x1="269.20" y1="183.30" x2="273.00" y2="183.30" stroke="#000" stroke-width="0.8" />
<line x1="271.10" y1="181.40" x2="271.10" y2="185.20" stroke="#000" stroke-width="0.8" />
<line x1="277.60" y1="183.30" x2="281.40" y2="183.30" stroke="#000" stroke-width="0.8" />
<line x1="279.50" y1="181.40" x2="279.50" y2="185.20" stroke="#000" stroke-width="0.8" />
<line x1="286.00" y1="183.30" x2="289.80" y2="183.30" stroke="#000" stroke-width="0.8" />
<line x1="287.90" y1="181.40" x2="287.90" y2="185.20" stroke="#000" stroke-width="0.8" />
<text x="36.80" y="192.61" font-size="7.0" stroke="#000" stroke-width="0.4">SM-122</text>
<text x="36.30" y="201.38" font-size="7.2" stroke="#000" stroke-width="0.4">(nmol/L)</text>
<line x1="64.00" y1="198.90" x2="68.70" y2="198.90" stroke="#000" stroke-width="1.1" />
<polygon points="72.40,198.90 68.20,196.50 68.20,201.30" fill="#000"/>
<text transform="translate(76.00,208.80) rotate(-83)" x="0" y="2.51" font-size="7.0" stroke="#000" stroke-width="0.05" letter-spacing="0.9">0</text>
<text transform="translate(84.60,208.80) rotate(-83)" x="0" y="2.51" font-size="7.0" stroke="#000" stroke-width="0.05" letter-spacing="0.9">1,000</text>
<text transform="translate(93.20,208.80) rotate(-83)" x="0" y="2.51" font-size="7.0" stroke="#000" stroke-width="0.05" letter-spacing="0.9">0</text>
<text transform="translate(101.80,208.80) rotate(-83)" x="0" y="2.51" font-size="7.0" stroke="#000" stroke-width="0.05" letter-spacing="0.9">10</text>
<text transform="translate(110.40,208.80) rotate(-83)" x="0" y="2.51" font-size="7.0" stroke="#000" stroke-width="0.05" letter-spacing="0.9">100</text>
<text transform="translate(119.00,208.80) rotate(-83)" x="0" y="2.51" font-size="7.0" stroke="#000" stroke-width="0.05" letter-spacing="0.9">1,000</text>
<text transform="translate(127.60,208.80) rotate(-83)" x="0" y="2.51" font-size="7.0" stroke="#000" stroke-width="0.05" letter-spacing="0.9">0</text>
<text transform="translate(136.20,208.80) rotate(-83)" x="0" y="2.51" font-size="7.0" stroke="#000" stroke-width="0.05" letter-spacing="0.9">1,000</text>
<text transform="translate(144.80,208.80) rotate(-83)" x="0" y="2.51" font-size="7.0" stroke="#000" stroke-width="0.05" letter-spacing="0.9">0</text>
<text transform="translate(153.40,208.80) rotate(-83)" x="0" y="2.51" font-size="7.0" stroke="#000" stroke-width="0.05" letter-spacing="0.9">10</text>
<text transform="translate(162.00,208.80) rotate(-83)" x="0" y="2.51" font-size="7.0" stroke="#000" stroke-width="0.05" letter-spacing="0.9">100</text>
<text transform="translate(170.60,208.80) rotate(-83)" x="0" y="2.51" font-size="7.0" stroke="#000" stroke-width="0.05" letter-spacing="0.9">1,000</text>
<text transform="translate(193.40,209.20) rotate(-83)" x="0" y="2.58" font-size="7.2" stroke="#000" stroke-width="0.05" letter-spacing="0.9">0</text>
<text transform="translate(201.60,209.20) rotate(-83)" x="0" y="2.58" font-size="7.2" stroke="#000" stroke-width="0.05" letter-spacing="0.9">100</text>
<text transform="translate(209.80,209.20) rotate(-83)" x="0" y="2.58" font-size="7.2" stroke="#000" stroke-width="0.05" letter-spacing="0.9">0</text>
<text transform="translate(218.10,209.20) rotate(-83)" x="0" y="2.58" font-size="7.2" stroke="#000" stroke-width="0.05" letter-spacing="0.9">1</text>
<text transform="translate(226.50,209.20) rotate(-83)" x="0" y="2.58" font-size="7.2" stroke="#000" stroke-width="0.05" letter-spacing="0.9">10</text>
<text transform="translate(234.90,209.20) rotate(-83)" x="0" y="2.58" font-size="7.2" stroke="#000" stroke-width="0.05" letter-spacing="0.9">100</text>
<text transform="translate(243.40,209.20) rotate(-83)" x="0" y="2.58" font-size="7.2" stroke="#000" stroke-width="0.05" letter-spacing="0.9">0</text>
<text transform="translate(251.90,209.20) rotate(-83)" x="0" y="2.58" font-size="7.2" stroke="#000" stroke-width="0.05" letter-spacing="0.9">100</text>
<text transform="translate(260.40,209.20) rotate(-83)" x="0" y="2.58" font-size="7.2" stroke="#000" stroke-width="0.05" letter-spacing="0.9">0</text>
<text transform="translate(268.70,209.20) rotate(-83)" x="0" y="2.58" font-size="7.2" stroke="#000" stroke-width="0.05" letter-spacing="0.9">1</text>
<text transform="translate(277.10,209.20) rotate(-83)" x="0" y="2.58" font-size="7.2" stroke="#000" stroke-width="0.05" letter-spacing="0.9">10</text>
<text transform="translate(285.60,209.20) rotate(-83)" x="0" y="2.58" font-size="7.2" stroke="#000" stroke-width="0.05" letter-spacing="0.9">100</text>
<line x1="300.90" y1="182.60" x2="305.80" y2="182.60" stroke="#000" stroke-width="1.4" />
<polygon points="297.00,182.60 301.40,180.00 301.40,185.20" fill="#000"/>
<text x="307.80" y="185.26" font-size="8" stroke="#000" stroke-width="0.3">TNFα</text>
<text x="307.80" y="195.03" font-size="7.9" stroke="#000" stroke-width="0.4">SM-164</text>
<text x="307.80" y="204.43" font-size="7.9" stroke="#000" stroke-width="0.4">(nmol/L)</text>
<line x1="300.90" y1="199.00" x2="305.40" y2="199.00" stroke="#000" stroke-width="1.4" />
<polygon points="297.00,199.00 301.40,196.40 301.40,201.60" fill="#000"/>
<rect x="69.50" y="211.70" width="103.00" height="21.80" fill="#d2d2d2" stroke="none" stroke-width="1.0" />
<clipPath id="c8"><rect x="69.50" y="211.70" width="103.00" height="21.80"/></clipPath>
<g clip-path="url(#c8)">
<rect x="69.50" y="211.50" width="103.00" height="2.00" fill="#8a8a8a" stroke="none" stroke-width="1.0" opacity="0.9" filter="url(#b1)"/>
<rect x="69.50" y="220.30" width="103.00" height="0.90" fill="#fff" stroke="none" stroke-width="1.0" opacity="0.6" filter="url(#b1)"/>
<rect x="69.50" y="221.40" width="103.00" height="3.00" fill="#5a5a5a" stroke="none" stroke-width="1.0" opacity="1.0" filter="url(#b1)"/>
<rect x="69.50" y="224.40" width="103.00" height="9.60" fill="#b4b4b4" stroke="none" stroke-width="1.0" opacity="1.0" filter="url(#b1)"/>
<rect x="69.50" y="231.00" width="103.00" height="2.60" fill="#8c8c8c" stroke="none" stroke-width="1.0" opacity="0.7" filter="url(#b2)"/>
<rect x="72.70" y="215.90" width="5.40" height="2.80" rx="1.40" fill="#000" opacity="0.85" filter="url(#b1)"/>
<rect x="80.70" y="215.90" width="5.40" height="2.80" rx="1.40" fill="#000" opacity="0.6" filter="url(#b1)"/>
<rect x="88.90" y="215.90" width="5.40" height="2.80" rx="1.40" fill="#000" opacity="0.75" filter="url(#b1)"/>
<rect x="96.60" y="215.90" width="5.40" height="2.80" rx="1.40" fill="#000" opacity="0.7" filter="url(#b1)"/>
<rect x="104.60" y="215.90" width="5.40" height="2.80" rx="1.40" fill="#000" opacity="0.3" filter="url(#b1)"/>
<rect x="112.90" y="215.90" width="5.40" height="2.80" rx="1.40" fill="#000" opacity="0.12" filter="url(#b1)"/>
<rect x="120.70" y="215.90" width="5.40" height="2.80" rx="1.40" fill="#000" opacity="0.9" filter="url(#b1)"/>
<rect x="128.70" y="215.90" width="5.40" height="2.80" rx="1.40" fill="#000" opacity="0.75" filter="url(#b1)"/>
<rect x="136.80" y="215.90" width="5.40" height="2.80" rx="1.40" fill="#000" opacity="0.9" filter="url(#b1)"/>
<rect x="144.50" y="215.90" width="5.40" height="2.80" rx="1.40" fill="#000" opacity="0.85" filter="url(#b1)"/>
<rect x="152.90" y="215.90" width="5.40" height="2.80" rx="1.40" fill="#000" opacity="0.6" filter="url(#b1)"/>
<rect x="161.50" y="215.00" width="5.40" height="2.80" rx="1.40" fill="#000" opacity="0.85" filter="url(#b1)"/>
<rect x="107.20" y="226.60" width="4.80" height="4.80" fill="#000" stroke="none" stroke-width="1.0" opacity="0.95" rx="1.2" filter="url(#b1)"/>
<rect x="114.60" y="226.00" width="5.40" height="5.60" fill="#000" stroke="none" stroke-width="1.0" opacity="1.0" rx="1.2" filter="url(#b1)"/>
<rect x="169.30" y="227.50" width="3.00" height="5.00" rx="1.50" fill="#000" opacity="0.4" filter="url(#b2)"/>
</g>
<rect x="69.50" y="211.70" width="103.00" height="21.80" fill="none" stroke="#111" stroke-width="1.1" />
<rect x="69.50" y="235.70" width="103.00" height="11.30" fill="#cacaca" stroke="none" stroke-width="1.0" />
<clipPath id="c9"><rect x="69.50" y="235.70" width="103.00" height="11.30"/></clipPath>
<g clip-path="url(#c9)">
<rect x="69.50" y="244.40" width="103.00" height="2.80" fill="#8c8c8c" stroke="none" stroke-width="1.0" opacity="0.8" filter="url(#b2)"/>
<rect x="69.50" y="235.60" width="103.00" height="1.20" fill="#999" stroke="none" stroke-width="1.0" opacity="0.6" filter="url(#b1)"/>
<rect x="72.90" y="240.35" width="6.20" height="2.10" rx="1.05" fill="#000" opacity="0.95" filter="url(#b1)"/>
<rect x="80.90" y="240.35" width="6.20" height="2.10" rx="1.05" fill="#000" opacity="0.95" filter="url(#b1)"/>
<rect x="89.10" y="240.35" width="6.20" height="2.10" rx="1.05" fill="#000" opacity="0.95" filter="url(#b1)"/>
<rect x="96.80" y="240.35" width="6.20" height="2.10" rx="1.05" fill="#000" opacity="0.95" filter="url(#b1)"/>
<rect x="104.80" y="240.35" width="6.20" height="2.10" rx="1.05" fill="#000" opacity="0.95" filter="url(#b1)"/>
<rect x="113.10" y="240.35" width="6.20" height="2.10" rx="1.05" fill="#000" opacity="0.95" filter="url(#b1)"/>
<rect x="120.90" y="240.35" width="6.20" height="2.10" rx="1.05" fill="#000" opacity="0.95" filter="url(#b1)"/>
<rect x="128.90" y="240.35" width="6.20" height="2.10" rx="1.05" fill="#000" opacity="0.95" filter="url(#b1)"/>
<rect x="137.00" y="240.35" width="6.20" height="2.10" rx="1.05" fill="#000" opacity="0.95" filter="url(#b1)"/>
<rect x="145.30" y="240.35" width="6.20" height="2.10" rx="1.05" fill="#000" opacity="0.95" filter="url(#b1)"/>
<rect x="153.70" y="240.35" width="6.20" height="2.10" rx="1.05" fill="#000" opacity="0.95" filter="url(#b1)"/>
<rect x="162.30" y="239.75" width="6.20" height="2.10" rx="1.05" fill="#000" opacity="0.95" filter="url(#b1)"/>
</g>
<rect x="69.50" y="235.70" width="103.00" height="11.30" fill="none" stroke="#111" stroke-width="1.1" />
<rect x="69.50" y="249.10" width="103.00" height="15.50" fill="#dcdcdc" stroke="none" stroke-width="1.0" />
<clipPath id="c10"><rect x="69.50" y="249.10" width="103.00" height="15.50"/></clipPath>
<g clip-path="url(#c10)">
<rect x="73.65" y="253.30" width="3.50" height="3.00" rx="1.50" fill="#000" opacity="0.22" filter="url(#b2)"/>
<rect x="81.65" y="253.30" width="3.50" height="3.00" rx="1.50" fill="#000" opacity="0.22" filter="url(#b2)"/>
<rect x="89.85" y="253.30" width="3.50" height="3.00" rx="1.50" fill="#000" opacity="0.22" filter="url(#b2)"/>
<rect x="97.55" y="253.30" width="3.50" height="3.00" rx="1.50" fill="#000" opacity="0.22" filter="url(#b2)"/>
<rect x="104.75" y="251.70" width="2.50" height="1.80" rx="0.90" fill="#000" opacity="0.35" filter="url(#b1)"/>
<rect x="107.90" y="251.75" width="4.80" height="2.90" rx="1.45" fill="#000" opacity="0.95" filter="url(#b1)"/>
<rect x="108.00" y="255.00" width="4.60" height="2.80" rx="1.40" fill="#000" opacity="0.9" filter="url(#b1)"/>
<rect x="109.00" y="258.90" width="3.60" height="2.00" rx="1.00" fill="#000" opacity="0.85" filter="url(#b1)"/>
<rect x="108.60" y="252.50" width="3.60" height="5.00" rx="1.80" fill="#000" opacity="0.5" filter="url(#b2)"/>
<rect x="114.90" y="251.35" width="5.80" height="3.30" rx="1.65" fill="#000" opacity="1.0" filter="url(#b1)"/>
<rect x="114.90" y="255.15" width="5.80" height="3.30" rx="1.65" fill="#000" opacity="1.0" filter="url(#b1)"/>
<rect x="115.10" y="259.10" width="5.40" height="2.60" rx="1.30" fill="#000" opacity="0.95" filter="url(#b1)"/>
<rect x="115.60" y="252.50" width="4.40" height="7.00" rx="2.20" fill="#000" opacity="0.6" filter="url(#b2)"/>
<rect x="158.40" y="254.30" width="3.60" height="2.00" rx="1.00" fill="#000" opacity="0.35" filter="url(#b1)"/>
<rect x="165.70" y="253.70" width="5.00" height="2.60" rx="1.30" fill="#000" opacity="0.8" filter="url(#b1)"/>
<rect x="165.95" y="256.00" width="4.50" height="3.00" rx="1.50" fill="#000" opacity="0.25" filter="url(#b2)"/>
</g>
<rect x="69.50" y="249.10" width="103.00" height="15.50" fill="none" stroke="#111" stroke-width="1.1" />
<rect x="69.50" y="266.70" width="103.00" height="9.70" fill="#b6b6b6" stroke="none" stroke-width="1.0" />
<clipPath id="c11"><rect x="69.50" y="266.70" width="103.00" height="9.70"/></clipPath>
<g clip-path="url(#c11)">
<rect x="69.50" y="266.60" width="103.00" height="1.50" fill="#888" stroke="none" stroke-width="1.0" opacity="0.8" filter="url(#b1)"/>
<rect x="69.50" y="274.20" width="103.00" height="2.20" fill="#888" stroke="none" stroke-width="1.0" opacity="0.8" filter="url(#b2)"/>
<rect x="69.50" y="268.20" width="103.00" height="1.30" fill="#fff" stroke="none" stroke-width="1.0" opacity="0.35" filter="url(#b1)"/>
<rect x="72.50" y="269.80" width="52.00" height="2.00" fill="#000" stroke="none" stroke-width="1.0" opacity="0.95" filter="url(#b1)"/>
<rect x="120.90" y="270.05" width="6.20" height="1.50" rx="0.75" fill="#000" opacity="0.85" filter="url(#b1)"/>
<rect x="128.90" y="270.05" width="6.20" height="1.50" rx="0.75" fill="#000" opacity="0.85" filter="url(#b1)"/>
<rect x="137.00" y="270.05" width="6.20" height="1.50" rx="0.75" fill="#000" opacity="0.85" filter="url(#b1)"/>
<rect x="144.70" y="270.05" width="6.20" height="1.50" rx="0.75" fill="#000" opacity="0.85" filter="url(#b1)"/>
<rect x="153.10" y="270.05" width="6.20" height="1.50" rx="0.75" fill="#000" opacity="0.85" filter="url(#b1)"/>
<rect x="161.70" y="270.05" width="6.20" height="1.50" rx="0.75" fill="#000" opacity="0.85" filter="url(#b1)"/>
<rect x="124.00" y="270.30" width="44.00" height="1.00" fill="#000" stroke="none" stroke-width="1.0" opacity="0.4" filter="url(#b1)"/>
</g>
<rect x="69.50" y="266.70" width="103.00" height="9.70" fill="none" stroke="#111" stroke-width="1.1" />
<rect x="188.10" y="212.20" width="104.20" height="9.80" fill="#bababa" stroke="none" stroke-width="1.0" />
<clipPath id="c12"><rect x="188.10" y="212.20" width="104.20" height="9.80"/></clipPath>
<g clip-path="url(#c12)">
<rect x="188.10" y="213.60" width="104.20" height="6.40" fill="#fff" stroke="none" stroke-width="1.0" opacity="0.3" filter="url(#b2)"/>
<rect x="190.00" y="216.60" width="5.60" height="2.00" rx="1.00" fill="#000" opacity="0.95" filter="url(#b1)"/>
<rect x="198.00" y="216.60" width="5.60" height="2.00" rx="1.00" fill="#000" opacity="0.9" filter="url(#b1)"/>
<rect x="206.10" y="216.60" width="5.60" height="2.00" rx="1.00" fill="#000" opacity="0.9" filter="url(#b1)"/>
<rect x="214.40" y="216.60" width="5.60" height="2.00" rx="1.00" fill="#000" opacity="0.7" filter="url(#b1)"/>
<rect x="223.00" y="216.60" width="5.60" height="2.00" rx="1.00" fill="#000" opacity="0.05" filter="url(#b1)"/>
<rect x="231.80" y="216.60" width="5.60" height="2.00" rx="1.00" fill="#000" opacity="0.05" filter="url(#b1)"/>
<rect x="240.20" y="216.60" width="5.60" height="2.00" rx="1.00" fill="#000" opacity="0.8" filter="url(#b1)"/>
<rect x="248.70" y="216.60" width="5.60" height="2.00" rx="1.00" fill="#000" opacity="0.65" filter="url(#b1)"/>
<rect x="257.20" y="216.60" width="5.60" height="2.00" rx="1.00" fill="#000" opacity="0.7" filter="url(#b1)"/>
<rect x="265.40" y="216.60" width="5.60" height="2.00" rx="1.00" fill="#000" opacity="0.7" filter="url(#b1)"/>
<rect x="273.70" y="215.30" width="5.60" height="3.00" rx="1.50" fill="#000" opacity="0.3" filter="url(#b1)"/>
<rect x="282.40" y="214.50" width="5.60" height="3.00" rx="1.50" fill="#000" opacity="0.25" filter="url(#b1)"/>
</g>
<rect x="188.10" y="212.20" width="104.20" height="9.80" fill="none" stroke="#111" stroke-width="1.1" />
<rect x="188.10" y="224.50" width="104.20" height="9.40" fill="#b8b8b8" stroke="none" stroke-width="1.0" />
<clipPath id="c13"><rect x="188.10" y="224.50" width="104.20" height="9.40"/></clipPath>
<g clip-path="url(#c13)">
<rect x="223.10" y="227.80" width="6.60" height="3.60" rx="1.80" fill="#000" opacity="1.0" filter="url(#b1)"/>
<rect x="231.40" y="227.30" width="6.80" height="4.20" rx="2.10" fill="#000" opacity="1.0" filter="url(#b1)"/>
<rect x="273.75" y="229.00" width="4.50" height="1.60" rx="0.80" fill="#000" opacity="0.25" filter="url(#b1)"/>
<rect x="281.80" y="228.00" width="6.40" height="3.20" rx="1.60" fill="#000" opacity="1.0" filter="url(#b1)"/>
<rect x="215.50" y="229.50" width="3.00" height="1.40" rx="0.70" fill="#000" opacity="0.15" filter="url(#b1)"/>
</g>
<rect x="188.10" y="224.50" width="104.20" height="9.40" fill="none" stroke="#111" stroke-width="1.1" />
<rect x="188.10" y="236.40" width="104.20" height="10.20" fill="#cacaca" stroke="none" stroke-width="1.0" />
<clipPath id="c14"><rect x="188.10" y="236.40" width="104.20" height="10.20"/></clipPath>
<g clip-path="url(#c14)">
<rect x="188.10" y="237.60" width="104.20" height="2.00" fill="#fff" stroke="none" stroke-width="1.0" opacity="0.25" filter="url(#b2)"/>
<rect x="190.00" y="240.75" width="5.60" height="1.90" rx="0.95" fill="#000" opacity="0.95" filter="url(#b1)"/>
<rect x="198.00" y="240.75" width="5.60" height="1.90" rx="0.95" fill="#000" opacity="0.8" filter="url(#b1)"/>
<rect x="206.10" y="240.75" width="5.60" height="1.90" rx="0.95" fill="#000" opacity="0.85" filter="url(#b1)"/>
<rect x="214.40" y="240.75" width="5.60" height="1.90" rx="0.95" fill="#000" opacity="0.8" filter="url(#b1)"/>
<rect x="223.00" y="240.75" width="5.60" height="1.90" rx="0.95" fill="#000" opacity="0.75" filter="url(#b1)"/>
<rect x="231.80" y="240.75" width="5.60" height="1.90" rx="0.95" fill="#000" opacity="0.4" filter="url(#b1)"/>
<rect x="240.20" y="240.75" width="5.60" height="1.90" rx="0.95" fill="#000" opacity="0.9" filter="url(#b1)"/>
<rect x="248.70" y="240.75" width="5.60" height="1.90" rx="0.95" fill="#000" opacity="0.85" filter="url(#b1)"/>
<rect x="257.20" y="240.75" width="5.60" height="1.90" rx="0.95" fill="#000" opacity="0.95" filter="url(#b1)"/>
<rect x="265.40" y="240.75" width="5.60" height="1.90" rx="0.95" fill="#000" opacity="0.9" filter="url(#b1)"/>
<rect x="273.70" y="240.75" width="5.60" height="1.90" rx="0.95" fill="#000" opacity="0.85" filter="url(#b1)"/>
<rect x="282.40" y="240.75" width="5.60" height="1.90" rx="0.95" fill="#000" opacity="0.2" filter="url(#b1)"/>
</g>
<rect x="188.10" y="236.40" width="104.20" height="10.20" fill="none" stroke="#111" stroke-width="1.1" />
<rect x="188.10" y="248.80" width="104.20" height="15.00" fill="#e2e2e2" stroke="none" stroke-width="1.0" />
<clipPath id="c15"><rect x="188.10" y="248.80" width="104.20" height="15.00"/></clipPath>
<g clip-path="url(#c15)">
<rect x="205.00" y="251.00" width="40.00" height="10.00" fill="#000" stroke="none" stroke-width="1.0" opacity="0.1" filter="url(#b3)"/>
<rect x="240.00" y="251.00" width="50.00" height="8.00" fill="#000" stroke="none" stroke-width="1.0" opacity="0.1" filter="url(#b3)"/>
<rect x="199.30" y="252.80" width="3.40" height="2.40" rx="1.20" fill="#000" opacity="0.15" filter="url(#b2)"/>
<rect x="206.80" y="251.70" width="4.40" height="2.60" rx="1.30" fill="#000" opacity="0.3" filter="url(#b2)"/>
<rect x="214.70" y="251.20" width="5.40" height="2.80" rx="1.40" fill="#000" opacity="0.85" filter="url(#b1)"/>
<rect x="214.90" y="254.80" width="5.00" height="2.40" rx="1.20" fill="#000" opacity="0.7" filter="url(#b1)"/>
<rect x="214.90" y="258.20" width="5.00" height="2.40" rx="1.20" fill="#000" opacity="0.65" filter="url(#b1)"/>
<rect x="214.80" y="251.50" width="5.60" height="9.00" rx="2.80" fill="#000" opacity="0.45" filter="url(#b2)"/>
<rect x="223.20" y="250.20" width="8.40" height="11.60" rx="4.20" fill="#000" opacity="1.0" filter="url(#b1)"/>
<rect x="232.10" y="250.20" width="8.60" height="11.60" rx="4.30" fill="#000" opacity="1.0" filter="url(#b1)"/>
<rect x="242.40" y="251.40" width="4.80" height="2.80" rx="1.40" fill="#000" opacity="0.5" filter="url(#b2)"/>
<rect x="242.80" y="254.80" width="4.00" height="4.00" rx="2.00" fill="#000" opacity="0.25" filter="url(#b2)"/>
<rect x="249.40" y="251.10" width="4.80" height="3.00" rx="1.50" fill="#000" opacity="0.42" filter="url(#b2)"/>
<rect x="257.60" y="251.10" width="4.80" height="3.00" rx="1.50" fill="#000" opacity="0.42" filter="url(#b2)"/>
<rect x="266.00" y="251.10" width="4.80" height="3.00" rx="1.50" fill="#000" opacity="0.42" filter="url(#b2)"/>
<rect x="249.80" y="255.00" width="4.00" height="4.00" rx="2.00" fill="#000" opacity="0.12" filter="url(#b2)"/>
<rect x="258.00" y="255.00" width="4.00" height="4.00" rx="2.00" fill="#000" opacity="0.12" filter="url(#b2)"/>
<rect x="266.40" y="255.00" width="4.00" height="4.00" rx="2.00" fill="#000" opacity="0.12" filter="url(#b2)"/>
<rect x="274.00" y="250.60" width="6.40" height="3.60" rx="1.80" fill="#000" opacity="0.95" filter="url(#b1)"/>
<rect x="274.70" y="254.40" width="5.00" height="4.00" rx="2.00" fill="#000" opacity="0.2" filter="url(#b2)"/>
<rect x="282.60" y="250.40" width="6.80" height="4.40" rx="2.20" fill="#000" opacity="1.0" filter="url(#b1)"/>
<rect x="283.40" y="254.50" width="6.00" height="4.60" rx="2.30" fill="#000" opacity="0.85" filter="url(#b2)"/>
</g>
<rect x="188.10" y="248.80" width="104.20" height="15.00" fill="none" stroke="#111" stroke-width="1.1" />
<rect x="188.10" y="266.40" width="104.20" height="10.00" fill="#b4b4b4" stroke="none" stroke-width="1.0" />
<clipPath id="c16"><rect x="188.10" y="266.40" width="104.20" height="10.00"/></clipPath>
<g clip-path="url(#c16)">
<rect x="188.10" y="267.00" width="104.20" height="1.60" fill="#fff" stroke="none" stroke-width="1.0" opacity="0.25" filter="url(#b1)"/>
<rect x="190.50" y="269.90" width="60.00" height="1.90" fill="#000" stroke="none" stroke-width="1.0" opacity="0.95" filter="url(#b1)"/>
<rect x="248.30" y="270.05" width="6.40" height="1.30" rx="0.65" fill="#000" opacity="0.8" filter="url(#b1)"/>
<rect x="256.80" y="270.05" width="6.40" height="1.30" rx="0.65" fill="#000" opacity="0.8" filter="url(#b1)"/>
<rect x="265.00" y="270.05" width="6.40" height="1.30" rx="0.65" fill="#000" opacity="0.8" filter="url(#b1)"/>
<rect x="273.30" y="270.05" width="6.40" height="1.30" rx="0.65" fill="#000" opacity="0.8" filter="url(#b1)"/>
<rect x="282.00" y="270.05" width="6.40" height="1.30" rx="0.65" fill="#000" opacity="0.8" filter="url(#b1)"/>
<rect x="248.00" y="270.30" width="40.00" height="0.90" fill="#000" stroke="none" stroke-width="1.0" opacity="0.35" filter="url(#b1)"/>
</g>
<rect x="188.10" y="266.40" width="104.20" height="10.00" fill="none" stroke="#111" stroke-width="1.1" />
<line x1="297.50" y1="216.00" x2="302.40" y2="216.00" stroke="#000" stroke-width="1.4" />
<polygon points="293.60,216.00 298.00,213.40 298.00,218.60" fill="#000"/>
<text x="303.70" y="218.36" font-size="8.0" stroke="#000" stroke-width="0.3">FL PARP 115 kDa</text>
<line x1="297.50" y1="229.20" x2="302.40" y2="229.20" stroke="#000" stroke-width="1.4" />
<polygon points="293.60,229.20 298.00,226.60 298.00,231.80" fill="#000"/>
<text x="303.70" y="231.56" font-size="8.0" stroke="#000" stroke-width="0.3">CL PARP 85 kDa</text>
<line x1="297.50" y1="241.30" x2="302.40" y2="241.30" stroke="#000" stroke-width="1.4" />
<polygon points="293.60,241.30 298.00,238.70 298.00,243.90" fill="#000"/>
<text x="303.70" y="243.59" font-size="7.8" stroke="#000" stroke-width="0.3">Pro-C3 35 kDa</text>
<line x1="297.50" y1="250.60" x2="302.40" y2="250.60" stroke="#000" stroke-width="1.3" />
<polygon points="293.60,250.60 298.00,248.40 298.00,252.80" fill="#000"/>
<line x1="297.50" y1="255.00" x2="302.40" y2="255.00" stroke="#000" stroke-width="1.3" />
<polygon points="293.60,255.00 298.00,252.80 298.00,257.20" fill="#000"/>
<line x1="297.50" y1="259.50" x2="302.40" y2="259.50" stroke="#000" stroke-width="1.3" />
<polygon points="293.60,259.50 298.00,257.30 298.00,261.70" fill="#000"/>
<text x="303.70" y="252.99" font-size="7.8" stroke="#000" stroke-width="0.3">CL-C3 21 kDa</text>
<text x="303.70" y="262.79" font-size="7.8" stroke="#000" stroke-width="0.3">19/17 kDa</text>
<line x1="297.50" y1="269.90" x2="302.40" y2="269.90" stroke="#000" stroke-width="1.4" />
<polygon points="293.60,269.90 298.00,267.30 298.00,272.50" fill="#000"/>
<text x="303.70" y="272.39" font-size="7.8" stroke="#000" stroke-width="0.3">β-actin 44 kDa</text>
<text transform="translate(47.70,344.90) rotate(-90)" x="0" y="2.90" font-size="8.1" stroke="#000" stroke-width="0.4">XIAP<tspan font-size="6" dy="-2.6">+/+</tspan></text>
<text transform="translate(59.00,344.90) rotate(-90)" x="0" y="2.90" font-size="8.1" stroke="#000" stroke-width="0.4">XIAP<tspan font-size="6" dy="-2.6">-/-</tspan></text>
<rect x="39.70" y="347.00" width="25.20" height="10.00" fill="#b2b2b2" stroke="none" stroke-width="1.0" />
<clipPath id="c17"><rect x="39.70" y="347.00" width="25.20" height="10.00"/></clipPath>
<g clip-path="url(#c17)">
<rect x="39.70" y="347.00" width="25.20" height="1.80" fill="#000" stroke="none" stroke-width="1.0" opacity="0.22" filter="url(#b2)"/>
<rect x="39.70" y="355.20" width="25.20" height="1.80" fill="#000" stroke="none" stroke-width="1.0" opacity="0.22" filter="url(#b2)"/>
<rect x="39.70" y="350.00" width="25.20" height="4.00" fill="#fff" stroke="none" stroke-width="1.0" opacity="0.2" filter="url(#b2)"/>
<rect x="41.30" y="350.65" width="10.40" height="3.50" rx="1.75" fill="#000" opacity="1.0" filter="url(#b1)"/>
</g>
<rect x="39.70" y="347.00" width="25.20" height="10.00" fill="none" stroke="#111" stroke-width="1.2" />
<text x="67.80" y="353.80" font-size="8.1" stroke="#000" stroke-width="0.4">XIAP</text>
<rect x="39.70" y="359.40" width="25.20" height="9.60" fill="#d0d0d0" stroke="none" stroke-width="1.0" />
<clipPath id="c18"><rect x="39.70" y="359.40" width="25.20" height="9.60"/></clipPath>
<g clip-path="url(#c18)">
<rect x="39.70" y="359.40" width="25.20" height="1.80" fill="#000" stroke="none" stroke-width="1.0" opacity="0.22" filter="url(#b2)"/>
<rect x="39.70" y="367.20" width="25.20" height="1.80" fill="#000" stroke="none" stroke-width="1.0" opacity="0.22" filter="url(#b2)"/>
<rect x="39.70" y="362.28" width="25.20" height="3.84" fill="#fff" stroke="none" stroke-width="1.0" opacity="0.2" filter="url(#b2)"/>
<rect x="41.30" y="362.75" width="10.40" height="2.30" rx="1.15" fill="#000" opacity="0.95" filter="url(#b1)"/>
<rect x="53.10" y="362.75" width="10.40" height="2.30" rx="1.15" fill="#000" opacity="0.95" filter="url(#b1)"/>
</g>
<rect x="39.70" y="359.40" width="25.20" height="9.60" fill="none" stroke="#111" stroke-width="1.2" />
<text x="67.80" y="366.00" font-size="8.1" stroke="#000" stroke-width="0.4">cIAP-1</text>
<rect x="39.70" y="371.40" width="25.20" height="9.60" fill="#b8b8b8" stroke="none" stroke-width="1.0" />
<clipPath id="c19"><rect x="39.70" y="371.40" width="25.20" height="9.60"/></clipPath>
<g clip-path="url(#c19)">
<rect x="39.70" y="371.40" width="25.20" height="1.80" fill="#000" stroke="none" stroke-width="1.0" opacity="0.22" filter="url(#b2)"/>
<rect x="39.70" y="379.20" width="25.20" height="1.80" fill="#000" stroke="none" stroke-width="1.0" opacity="0.22" filter="url(#b2)"/>
<rect x="39.70" y="374.28" width="25.20" height="3.84" fill="#fff" stroke="none" stroke-width="1.0" opacity="0.2" filter="url(#b2)"/>
<rect x="41.40" y="375.00" width="10.20" height="3.20" rx="1.60" fill="#000" opacity="0.9" filter="url(#b1)"/>
<rect x="53.20" y="375.00" width="10.20" height="3.20" rx="1.60" fill="#000" opacity="0.9" filter="url(#b1)"/>
</g>
<rect x="39.70" y="371.40" width="25.20" height="9.60" fill="none" stroke="#111" stroke-width="1.2" />
<text x="67.80" y="378.00" font-size="8.1" stroke="#000" stroke-width="0.4">cIAP-2</text>
<rect x="39.70" y="383.50" width="25.20" height="9.70" fill="#b8b8b8" stroke="none" stroke-width="1.0" />
<clipPath id="c20"><rect x="39.70" y="383.50" width="25.20" height="9.70"/></clipPath>
<g clip-path="url(#c20)">
<rect x="39.70" y="383.50" width="25.20" height="1.80" fill="#000" stroke="none" stroke-width="1.0" opacity="0.22" filter="url(#b2)"/>
<rect x="39.70" y="391.40" width="25.20" height="1.80" fill="#000" stroke="none" stroke-width="1.0" opacity="0.22" filter="url(#b2)"/>
<rect x="39.70" y="386.41" width="25.20" height="3.88" fill="#fff" stroke="none" stroke-width="1.0" opacity="0.2" filter="url(#b2)"/>
<rect x="41.30" y="387.15" width="10.40" height="3.00" rx="1.50" fill="#000" opacity="0.95" filter="url(#b1)"/>
<rect x="53.10" y="387.15" width="10.40" height="3.00" rx="1.50" fill="#000" opacity="0.95" filter="url(#b1)"/>
</g>
<rect x="39.70" y="383.50" width="25.20" height="9.70" fill="none" stroke="#111" stroke-width="1.2" />
<text x="67.80" y="390.15" font-size="8.1" stroke="#000" stroke-width="0.4">β-actin</text>
<line x1="143.80" y1="329.50" x2="143.80" y2="377.40" stroke="#444" stroke-width="1.0" />
<line x1="141.20" y1="336.00" x2="143.80" y2="336.00" stroke="#000" stroke-width="0.9" />
<text x="140.80" y="338.65" font-size="7.4" text-anchor="end" stroke="#000" stroke-width="0.4">100</text>
<line x1="141.20" y1="346.23" x2="143.80" y2="346.23" stroke="#000" stroke-width="0.9" />
<text x="140.80" y="348.87" font-size="7.4" text-anchor="end" stroke="#000" stroke-width="0.4">75</text>
<line x1="141.20" y1="356.45" x2="143.80" y2="356.45" stroke="#000" stroke-width="0.9" />
<text x="140.80" y="359.10" font-size="7.4" text-anchor="end" stroke="#000" stroke-width="0.4">50</text>
<line x1="141.20" y1="366.67" x2="143.80" y2="366.67" stroke="#000" stroke-width="0.9" />
<text x="140.80" y="369.32" font-size="7.4" text-anchor="end" stroke="#000" stroke-width="0.4">25</text>
<line x1="141.20" y1="376.90" x2="143.80" y2="376.90" stroke="#000" stroke-width="0.9" />
<text x="140.80" y="379.55" font-size="7.4" text-anchor="end" stroke="#000" stroke-width="0.4">0</text>
<line x1="143.80" y1="376.90" x2="216.40" y2="376.90" stroke="#000" stroke-width="1.0" />
<line x1="149.59" y1="376.90" x2="149.59" y2="378.30" stroke="#000" stroke-width="0.5" />
<line x1="153.27" y1="376.90" x2="153.27" y2="378.30" stroke="#000" stroke-width="0.5" />
<line x1="155.88" y1="376.90" x2="155.88" y2="378.30" stroke="#000" stroke-width="0.5" />
<line x1="157.91" y1="376.90" x2="157.91" y2="378.30" stroke="#000" stroke-width="0.5" />
<line x1="159.56" y1="376.90" x2="159.56" y2="378.30" stroke="#000" stroke-width="0.5" />
<line x1="160.96" y1="376.90" x2="160.96" y2="378.30" stroke="#000" stroke-width="0.5" />
<line x1="162.17" y1="376.90" x2="162.17" y2="378.30" stroke="#000" stroke-width="0.5" />
<line x1="163.24" y1="376.90" x2="163.24" y2="378.30" stroke="#000" stroke-width="0.5" />
<line x1="170.49" y1="376.90" x2="170.49" y2="378.30" stroke="#000" stroke-width="0.5" />
<line x1="174.17" y1="376.90" x2="174.17" y2="378.30" stroke="#000" stroke-width="0.5" />
<line x1="176.78" y1="376.90" x2="176.78" y2="378.30" stroke="#000" stroke-width="0.5" />
<line x1="178.81" y1="376.90" x2="178.81" y2="378.30" stroke="#000" stroke-width="0.5" />
<line x1="180.46" y1="376.90" x2="180.46" y2="378.30" stroke="#000" stroke-width="0.5" />
<line x1="181.86" y1="376.90" x2="181.86" y2="378.30" stroke="#000" stroke-width="0.5" />
<line x1="183.07" y1="376.90" x2="183.07" y2="378.30" stroke="#000" stroke-width="0.5" />
<line x1="184.14" y1="376.90" x2="184.14" y2="378.30" stroke="#000" stroke-width="0.5" />
<line x1="191.39" y1="376.90" x2="191.39" y2="378.30" stroke="#000" stroke-width="0.5" />
<line x1="195.07" y1="376.90" x2="195.07" y2="378.30" stroke="#000" stroke-width="0.5" />
<line x1="197.68" y1="376.90" x2="197.68" y2="378.30" stroke="#000" stroke-width="0.5" />
<line x1="199.71" y1="376.90" x2="199.71" y2="378.30" stroke="#000" stroke-width="0.5" />
<line x1="201.36" y1="376.90" x2="201.36" y2="378.30" stroke="#000" stroke-width="0.5" />
<line x1="202.76" y1="376.90" x2="202.76" y2="378.30" stroke="#000" stroke-width="0.5" />
<line x1="203.97" y1="376.90" x2="203.97" y2="378.30" stroke="#000" stroke-width="0.5" />
<line x1="205.04" y1="376.90" x2="205.04" y2="378.30" stroke="#000" stroke-width="0.5" />
<line x1="212.29" y1="376.90" x2="212.29" y2="378.30" stroke="#000" stroke-width="0.5" />
<line x1="215.97" y1="376.90" x2="215.97" y2="378.30" stroke="#000" stroke-width="0.5" />
<line x1="143.80" y1="376.90" x2="143.80" y2="379.30" stroke="#000" stroke-width="0.9" />
<line x1="164.20" y1="376.90" x2="164.20" y2="379.30" stroke="#000" stroke-width="0.9" />
<line x1="185.30" y1="376.90" x2="185.30" y2="379.30" stroke="#000" stroke-width="0.9" />
<line x1="206.20" y1="376.90" x2="206.20" y2="379.30" stroke="#000" stroke-width="0.9" />
<text x="143.80" y="385.75" font-size="7.4" text-anchor="middle" stroke="#000" stroke-width="0.4">0</text>
<text x="165.00" y="385.75" font-size="7.4" text-anchor="middle" stroke="#000" stroke-width="0.4">10</text>
<text x="185.50" y="385.75" font-size="7.4" text-anchor="middle" stroke="#000" stroke-width="0.4">100</text>
<text x="206.20" y="385.75" font-size="7.4" text-anchor="middle" stroke="#000" stroke-width="0.4">1,000</text>
<text x="179.00" y="396.96" font-size="8" text-anchor="middle" stroke="#000" stroke-width="0.4">SM-122 (nmol/L)</text>
<text transform="translate(112.60,355.25) rotate(-90)" x="0" y="2.86" font-size="8" text-anchor="middle" stroke="#000" stroke-width="0.4">Cell Growth</text>
<text transform="translate(122.00,355.25) rotate(-90)" x="0" y="2.86" font-size="8" text-anchor="middle" stroke="#000" stroke-width="0.4">(% of control)</text>
<polyline points="143.80,335.60 153.60,336.40 164.20,338.20 174.50,341.20 185.30,345.40 195.30,346.60 206.20,347.40 215.60,347.20" fill="none" stroke="#000" stroke-width="1.0"/>
<line x1="143.80" y1="331.10" x2="143.80" y2="340.10" stroke="#000" stroke-width="0.7" />
<line x1="142.00" y1="331.10" x2="145.60" y2="331.10" stroke="#000" stroke-width="0.7" />
<line x1="142.00" y1="340.10" x2="145.60" y2="340.10" stroke="#000" stroke-width="0.7" />
<line x1="185.30" y1="343.40" x2="185.30" y2="347.40" stroke="#000" stroke-width="0.7" />
<line x1="183.50" y1="343.40" x2="187.10" y2="343.40" stroke="#000" stroke-width="0.7" />
<line x1="183.50" y1="347.40" x2="187.10" y2="347.40" stroke="#000" stroke-width="0.7" />
<line x1="215.60" y1="345.70" x2="215.60" y2="348.70" stroke="#000" stroke-width="0.7" />
<line x1="213.80" y1="345.70" x2="217.40" y2="345.70" stroke="#000" stroke-width="0.7" />
<line x1="213.80" y1="348.70" x2="217.40" y2="348.70" stroke="#000" stroke-width="0.7" />
<circle cx="143.80" cy="335.60" r="1.8" fill="#fff" stroke="#000" stroke-width="0.8"/>
<circle cx="153.60" cy="336.40" r="1.8" fill="#fff" stroke="#000" stroke-width="0.8"/>
<circle cx="164.20" cy="338.20" r="1.8" fill="#fff" stroke="#000" stroke-width="0.8"/>
<circle cx="174.50" cy="341.20" r="1.8" fill="#fff" stroke="#000" stroke-width="0.8"/>
<circle cx="185.30" cy="345.40" r="1.8" fill="#fff" stroke="#000" stroke-width="0.8"/>
<circle cx="195.30" cy="346.60" r="1.8" fill="#fff" stroke="#000" stroke-width="0.8"/>
<circle cx="206.20" cy="347.40" r="1.8" fill="#fff" stroke="#000" stroke-width="0.8"/>
<circle cx="215.60" cy="347.20" r="1.8" fill="#fff" stroke="#000" stroke-width="0.8"/>
<polyline points="143.80,336.40 153.60,337.60 164.20,341.60 174.50,358.90 185.30,367.60 195.30,372.00 206.20,374.50 215.60,375.50" fill="none" stroke="#000" stroke-width="1.0"/>
<polygon points="141.70,334.80 145.90,334.80 143.80,338.60" fill="#fff" stroke="#000" stroke-width="0.8"/>
<polygon points="151.50,336.00 155.70,336.00 153.60,339.80" fill="#fff" stroke="#000" stroke-width="0.8"/>
<polygon points="162.10,340.00 166.30,340.00 164.20,343.80" fill="#fff" stroke="#000" stroke-width="0.8"/>
<polygon points="172.40,357.30 176.60,357.30 174.50,361.10" fill="#fff" stroke="#000" stroke-width="0.8"/>
<polygon points="183.20,366.00 187.40,366.00 185.30,369.80" fill="#fff" stroke="#000" stroke-width="0.8"/>
<polygon points="193.20,370.40 197.40,370.40 195.30,374.20" fill="#fff" stroke="#000" stroke-width="0.8"/>
<polygon points="204.10,372.90 208.30,372.90 206.20,376.70" fill="#fff" stroke="#000" stroke-width="0.8"/>
<polygon points="213.50,373.90 217.70,373.90 215.60,377.70" fill="#fff" stroke="#000" stroke-width="0.8"/>
<polyline points="143.80,335.00 153.60,336.60 164.20,341.00 174.50,347.00 185.30,352.90 195.30,357.00 206.20,361.20 215.60,365.30" fill="none" stroke="#000" stroke-width="1.0"/>
<line x1="164.20" y1="338.80" x2="164.20" y2="343.20" stroke="#000" stroke-width="0.7" />
<line x1="162.40" y1="338.80" x2="166.00" y2="338.80" stroke="#000" stroke-width="0.7" />
<line x1="162.40" y1="343.20" x2="166.00" y2="343.20" stroke="#000" stroke-width="0.7" />
<line x1="174.50" y1="342.60" x2="174.50" y2="351.40" stroke="#000" stroke-width="0.7" />
<line x1="172.70" y1="342.60" x2="176.30" y2="342.60" stroke="#000" stroke-width="0.7" />
<line x1="172.70" y1="351.40" x2="176.30" y2="351.40" stroke="#000" stroke-width="0.7" />
<line x1="185.30" y1="349.50" x2="185.30" y2="356.30" stroke="#000" stroke-width="0.7" />
<line x1="183.50" y1="349.50" x2="187.10" y2="349.50" stroke="#000" stroke-width="0.7" />
<line x1="183.50" y1="356.30" x2="187.10" y2="356.30" stroke="#000" stroke-width="0.7" />
<line x1="195.30" y1="355.00" x2="195.30" y2="359.00" stroke="#000" stroke-width="0.7" />
<line x1="193.50" y1="355.00" x2="197.10" y2="355.00" stroke="#000" stroke-width="0.7" />
<line x1="193.50" y1="359.00" x2="197.10" y2="359.00" stroke="#000" stroke-width="0.7" />
<line x1="206.20" y1="359.60" x2="206.20" y2="362.80" stroke="#000" stroke-width="0.7" />
<line x1="204.40" y1="359.60" x2="208.00" y2="359.60" stroke="#000" stroke-width="0.7" />
<line x1="204.40" y1="362.80" x2="208.00" y2="362.80" stroke="#000" stroke-width="0.7" />
<line x1="215.60" y1="363.70" x2="215.60" y2="366.90" stroke="#000" stroke-width="0.7" />
<line x1="213.80" y1="363.70" x2="217.40" y2="363.70" stroke="#000" stroke-width="0.7" />
<line x1="213.80" y1="366.90" x2="217.40" y2="366.90" stroke="#000" stroke-width="0.7" />
<polygon points="141.50,333.30 146.10,333.30 143.80,337.40" fill="#000"/>
<polygon points="151.30,334.90 155.90,334.90 153.60,339.00" fill="#000"/>
<polygon points="161.90,339.30 166.50,339.30 164.20,343.40" fill="#000"/>
<polygon points="172.20,345.30 176.80,345.30 174.50,349.40" fill="#000"/>
<polygon points="183.00,351.20 187.60,351.20 185.30,355.30" fill="#000"/>
<polygon points="193.00,355.30 197.60,355.30 195.30,359.40" fill="#000"/>
<polygon points="203.90,359.50 208.50,359.50 206.20,363.60" fill="#000"/>
<polygon points="213.30,363.60 217.90,363.60 215.60,367.70" fill="#000"/>
<polyline points="143.80,333.60 153.60,335.80 164.20,337.60 174.50,340.70 185.30,343.80 195.30,347.00 206.20,349.50 215.60,350.20" fill="none" stroke="#000" stroke-width="1.0"/>
<line x1="143.80" y1="330.60" x2="143.80" y2="336.60" stroke="#000" stroke-width="0.7" />
<line x1="142.00" y1="330.60" x2="145.60" y2="330.60" stroke="#000" stroke-width="0.7" />
<line x1="142.00" y1="336.60" x2="145.60" y2="336.60" stroke="#000" stroke-width="0.7" />
<line x1="153.60" y1="329.80" x2="153.60" y2="341.80" stroke="#000" stroke-width="0.7" />
<line x1="151.80" y1="329.80" x2="155.40" y2="329.80" stroke="#000" stroke-width="0.7" />
<line x1="151.80" y1="341.80" x2="155.40" y2="341.80" stroke="#000" stroke-width="0.7" />
<line x1="164.20" y1="335.10" x2="164.20" y2="340.10" stroke="#000" stroke-width="0.7" />
<line x1="162.40" y1="335.10" x2="166.00" y2="335.10" stroke="#000" stroke-width="0.7" />
<line x1="162.40" y1="340.10" x2="166.00" y2="340.10" stroke="#000" stroke-width="0.7" />
<line x1="174.50" y1="338.30" x2="174.50" y2="343.10" stroke="#000" stroke-width="0.7" />
<line x1="172.70" y1="338.30" x2="176.30" y2="338.30" stroke="#000" stroke-width="0.7" />
<line x1="172.70" y1="343.10" x2="176.30" y2="343.10" stroke="#000" stroke-width="0.7" />
<line x1="215.60" y1="348.20" x2="215.60" y2="352.20" stroke="#000" stroke-width="0.7" />
<line x1="213.80" y1="348.20" x2="217.40" y2="348.20" stroke="#000" stroke-width="0.7" />
<line x1="213.80" y1="352.20" x2="217.40" y2="352.20" stroke="#000" stroke-width="0.7" />
<circle cx="143.80" cy="333.60" r="2.1" fill="#000"/>
<circle cx="153.60" cy="335.80" r="2.1" fill="#000"/>
<circle cx="164.20" cy="337.60" r="2.1" fill="#000"/>
<circle cx="174.50" cy="340.70" r="2.1" fill="#000"/>
<circle cx="185.30" cy="343.80" r="2.1" fill="#000"/>
<circle cx="195.30" cy="347.00" r="2.1" fill="#000"/>
<circle cx="206.20" cy="349.50" r="2.1" fill="#000"/>
<circle cx="215.60" cy="350.20" r="2.1" fill="#000"/>
<line x1="125.10" y1="291.20" x2="132.30" y2="291.20" stroke="#000" stroke-width="0.8" />
<circle cx="128.70" cy="291.20" r="2.1" fill="#000"/>
<text x="133.70" y="293.86" font-size="7.42" stroke="#000" stroke-width="0.4">SM-122 only (XIAP<tspan font-size="5" dy="-2.4">+/+</tspan><tspan dy="2.4">)</tspan></text>
<line x1="125.10" y1="302.40" x2="132.30" y2="302.40" stroke="#000" stroke-width="0.8" />
<polygon points="126.40,300.70 131.00,300.70 128.70,304.80" fill="#000"/>
<text x="133.70" y="305.06" font-size="7.42" stroke="#000" stroke-width="0.4">SM-122 + TNFα (XIAP<tspan font-size="5" dy="-2.4">+/+</tspan><tspan dy="2.4">)</tspan></text>
<line x1="125.10" y1="312.00" x2="132.30" y2="312.00" stroke="#000" stroke-width="0.8" />
<circle cx="128.70" cy="312.00" r="1.8" fill="#fff" stroke="#000" stroke-width="0.8"/>
<text x="133.70" y="314.66" font-size="7.42" stroke="#000" stroke-width="0.4">SM-122 only (XIAP<tspan font-size="5" dy="-2.4">-/-</tspan><tspan dy="2.4">)</tspan></text>
<line x1="125.10" y1="322.40" x2="132.30" y2="322.40" stroke="#000" stroke-width="0.8" />
<polygon points="126.60,320.80 130.80,320.80 128.70,324.60" fill="#fff" stroke="#000" stroke-width="0.8"/>
<text x="133.70" y="325.06" font-size="7.42" stroke="#000" stroke-width="0.4">SM-122 + TNFα (XIAP<tspan font-size="5" dy="-2.4">-/-</tspan><tspan dy="2.4">)</tspan></text>
<line x1="270.00" y1="330.40" x2="270.00" y2="378.00" stroke="#444" stroke-width="1.0" />
<line x1="267.40" y1="336.90" x2="270.00" y2="336.90" stroke="#000" stroke-width="0.9" />
<text x="267.00" y="339.55" font-size="7.4" text-anchor="end" stroke="#000" stroke-width="0.4">100</text>
<line x1="267.40" y1="347.05" x2="270.00" y2="347.05" stroke="#000" stroke-width="0.9" />
<text x="267.00" y="349.70" font-size="7.4" text-anchor="end" stroke="#000" stroke-width="0.4">75</text>
<line x1="267.40" y1="357.20" x2="270.00" y2="357.20" stroke="#000" stroke-width="0.9" />
<text x="267.00" y="359.85" font-size="7.4" text-anchor="end" stroke="#000" stroke-width="0.4">50</text>
<line x1="267.40" y1="367.35" x2="270.00" y2="367.35" stroke="#000" stroke-width="0.9" />
<text x="267.00" y="370.00" font-size="7.4" text-anchor="end" stroke="#000" stroke-width="0.4">25</text>
<line x1="267.40" y1="377.50" x2="270.00" y2="377.50" stroke="#000" stroke-width="0.9" />
<text x="267.00" y="380.15" font-size="7.4" text-anchor="end" stroke="#000" stroke-width="0.4">0</text>
<line x1="270.00" y1="377.50" x2="343.40" y2="377.50" stroke="#000" stroke-width="1.0" />
<line x1="276.02" y1="377.50" x2="276.02" y2="378.90" stroke="#000" stroke-width="0.5" />
<line x1="279.72" y1="377.50" x2="279.72" y2="378.90" stroke="#000" stroke-width="0.5" />
<line x1="282.34" y1="377.50" x2="282.34" y2="378.90" stroke="#000" stroke-width="0.5" />
<line x1="284.38" y1="377.50" x2="284.38" y2="378.90" stroke="#000" stroke-width="0.5" />
<line x1="286.04" y1="377.50" x2="286.04" y2="378.90" stroke="#000" stroke-width="0.5" />
<line x1="287.45" y1="377.50" x2="287.45" y2="378.90" stroke="#000" stroke-width="0.5" />
<line x1="288.66" y1="377.50" x2="288.66" y2="378.90" stroke="#000" stroke-width="0.5" />
<line x1="289.74" y1="377.50" x2="289.74" y2="378.90" stroke="#000" stroke-width="0.5" />
<line x1="297.02" y1="377.50" x2="297.02" y2="378.90" stroke="#000" stroke-width="0.5" />
<line x1="300.72" y1="377.50" x2="300.72" y2="378.90" stroke="#000" stroke-width="0.5" />
<line x1="303.34" y1="377.50" x2="303.34" y2="378.90" stroke="#000" stroke-width="0.5" />
<line x1="305.38" y1="377.50" x2="305.38" y2="378.90" stroke="#000" stroke-width="0.5" />
<line x1="307.04" y1="377.50" x2="307.04" y2="378.90" stroke="#000" stroke-width="0.5" />
<line x1="308.45" y1="377.50" x2="308.45" y2="378.90" stroke="#000" stroke-width="0.5" />
<line x1="309.66" y1="377.50" x2="309.66" y2="378.90" stroke="#000" stroke-width="0.5" />
<line x1="310.74" y1="377.50" x2="310.74" y2="378.90" stroke="#000" stroke-width="0.5" />
<line x1="318.02" y1="377.50" x2="318.02" y2="378.90" stroke="#000" stroke-width="0.5" />
<line x1="321.72" y1="377.50" x2="321.72" y2="378.90" stroke="#000" stroke-width="0.5" />
<line x1="324.34" y1="377.50" x2="324.34" y2="378.90" stroke="#000" stroke-width="0.5" />
<line x1="326.38" y1="377.50" x2="326.38" y2="378.90" stroke="#000" stroke-width="0.5" />
<line x1="328.04" y1="377.50" x2="328.04" y2="378.90" stroke="#000" stroke-width="0.5" />
<line x1="329.45" y1="377.50" x2="329.45" y2="378.90" stroke="#000" stroke-width="0.5" />
<line x1="330.66" y1="377.50" x2="330.66" y2="378.90" stroke="#000" stroke-width="0.5" />
<line x1="331.74" y1="377.50" x2="331.74" y2="378.90" stroke="#000" stroke-width="0.5" />
<line x1="339.02" y1="377.50" x2="339.02" y2="378.90" stroke="#000" stroke-width="0.5" />
<line x1="342.72" y1="377.50" x2="342.72" y2="378.90" stroke="#000" stroke-width="0.5" />
<line x1="270.00" y1="377.50" x2="270.00" y2="379.90" stroke="#000" stroke-width="0.9" />
<line x1="290.70" y1="377.50" x2="290.70" y2="379.90" stroke="#000" stroke-width="0.9" />
<line x1="312.00" y1="377.50" x2="312.00" y2="379.90" stroke="#000" stroke-width="0.9" />
<line x1="332.70" y1="377.50" x2="332.70" y2="379.90" stroke="#000" stroke-width="0.9" />
<text x="270.00" y="386.35" font-size="7.4" text-anchor="middle" stroke="#000" stroke-width="0.4">0</text>
<text x="292.00" y="386.35" font-size="7.4" text-anchor="middle" stroke="#000" stroke-width="0.4">10</text>
<text x="312.00" y="386.35" font-size="7.4" text-anchor="middle" stroke="#000" stroke-width="0.4">100</text>
<text x="333.00" y="386.35" font-size="7.4" text-anchor="middle" stroke="#000" stroke-width="0.4">1,000</text>
<text x="306.30" y="397.56" font-size="8" text-anchor="middle" stroke="#000" stroke-width="0.4">SM-164 (nmol/L)</text>
<text transform="translate(239.60,356.00) rotate(-90)" x="0" y="2.86" font-size="8" text-anchor="middle" stroke="#000" stroke-width="0.4">Cell Growth</text>
<text transform="translate(247.80,356.00) rotate(-90)" x="0" y="2.86" font-size="8" text-anchor="middle" stroke="#000" stroke-width="0.4">(% of control)</text>
<polyline points="270.00,333.60 280.10,337.40 290.70,338.00 301.10,339.40 312.00,341.30 322.00,342.80 332.70,343.20 342.60,343.60" fill="none" stroke="#000" stroke-width="1.0"/>
<line x1="301.10" y1="336.20" x2="301.10" y2="342.60" stroke="#000" stroke-width="0.7" />
<line x1="299.30" y1="336.20" x2="302.90" y2="336.20" stroke="#000" stroke-width="0.7" />
<line x1="299.30" y1="342.60" x2="302.90" y2="342.60" stroke="#000" stroke-width="0.7" />
<line x1="312.00" y1="339.70" x2="312.00" y2="342.90" stroke="#000" stroke-width="0.7" />
<line x1="310.20" y1="339.70" x2="313.80" y2="339.70" stroke="#000" stroke-width="0.7" />
<line x1="310.20" y1="342.90" x2="313.80" y2="342.90" stroke="#000" stroke-width="0.7" />
<line x1="322.00" y1="341.40" x2="322.00" y2="344.20" stroke="#000" stroke-width="0.7" />
<line x1="320.20" y1="341.40" x2="323.80" y2="341.40" stroke="#000" stroke-width="0.7" />
<line x1="320.20" y1="344.20" x2="323.80" y2="344.20" stroke="#000" stroke-width="0.7" />
<line x1="332.70" y1="341.80" x2="332.70" y2="344.60" stroke="#000" stroke-width="0.7" />
<line x1="330.90" y1="341.80" x2="334.50" y2="341.80" stroke="#000" stroke-width="0.7" />
<line x1="330.90" y1="344.60" x2="334.50" y2="344.60" stroke="#000" stroke-width="0.7" />
<line x1="342.60" y1="342.20" x2="342.60" y2="345.00" stroke="#000" stroke-width="0.7" />
<line x1="340.80" y1="342.20" x2="344.40" y2="342.20" stroke="#000" stroke-width="0.7" />
<line x1="340.80" y1="345.00" x2="344.40" y2="345.00" stroke="#000" stroke-width="0.7" />
<circle cx="270.00" cy="333.60" r="1.8" fill="#fff" stroke="#000" stroke-width="0.8"/>
<circle cx="280.10" cy="337.40" r="1.8" fill="#fff" stroke="#000" stroke-width="0.8"/>
<circle cx="290.70" cy="338.00" r="1.8" fill="#fff" stroke="#000" stroke-width="0.8"/>
<circle cx="301.10" cy="339.40" r="1.8" fill="#fff" stroke="#000" stroke-width="0.8"/>
<circle cx="312.00" cy="341.30" r="1.8" fill="#fff" stroke="#000" stroke-width="0.8"/>
<circle cx="322.00" cy="342.80" r="1.8" fill="#fff" stroke="#000" stroke-width="0.8"/>
<circle cx="332.70" cy="343.20" r="1.8" fill="#fff" stroke="#000" stroke-width="0.8"/>
<circle cx="342.60" cy="343.60" r="1.8" fill="#fff" stroke="#000" stroke-width="0.8"/>
<polyline points="270.00,334.20 280.10,344.40 290.70,345.20 301.10,353.90 312.00,363.40 322.00,372.40 332.70,375.50 342.60,376.60" fill="none" stroke="#000" stroke-width="1.0"/>
<line x1="280.10" y1="339.20" x2="280.10" y2="349.60" stroke="#000" stroke-width="0.7" />
<line x1="278.30" y1="339.20" x2="281.90" y2="339.20" stroke="#000" stroke-width="0.7" />
<line x1="278.30" y1="349.60" x2="281.90" y2="349.60" stroke="#000" stroke-width="0.7" />
<line x1="290.70" y1="338.40" x2="290.70" y2="352.00" stroke="#000" stroke-width="0.7" />
<line x1="288.90" y1="338.40" x2="292.50" y2="338.40" stroke="#000" stroke-width="0.7" />
<line x1="288.90" y1="352.00" x2="292.50" y2="352.00" stroke="#000" stroke-width="0.7" />
<line x1="301.10" y1="351.30" x2="301.10" y2="356.50" stroke="#000" stroke-width="0.7" />
<line x1="299.30" y1="351.30" x2="302.90" y2="351.30" stroke="#000" stroke-width="0.7" />
<line x1="299.30" y1="356.50" x2="302.90" y2="356.50" stroke="#000" stroke-width="0.7" />
<polygon points="267.90,332.60 272.10,332.60 270.00,336.40" fill="#fff" stroke="#000" stroke-width="0.8"/>
<polygon points="278.00,342.80 282.20,342.80 280.10,346.60" fill="#fff" stroke="#000" stroke-width="0.8"/>
<polygon points="288.60,343.60 292.80,343.60 290.70,347.40" fill="#fff" stroke="#000" stroke-width="0.8"/>
<polygon points="299.00,352.30 303.20,352.30 301.10,356.10" fill="#fff" stroke="#000" stroke-width="0.8"/>
<polygon points="309.90,361.80 314.10,361.80 312.00,365.60" fill="#fff" stroke="#000" stroke-width="0.8"/>
<polygon points="319.90,370.80 324.10,370.80 322.00,374.60" fill="#fff" stroke="#000" stroke-width="0.8"/>
<polygon points="330.60,373.90 334.80,373.90 332.70,377.70" fill="#fff" stroke="#000" stroke-width="0.8"/>
<polygon points="340.50,375.00 344.70,375.00 342.60,378.80" fill="#fff" stroke="#000" stroke-width="0.8"/>
<polyline points="270.00,333.40 280.10,340.00 290.70,343.20 301.10,345.20 312.00,354.20 322.00,363.80 332.70,372.20 342.60,375.50" fill="none" stroke="#000" stroke-width="1.0"/>
<line x1="301.10" y1="343.20" x2="301.10" y2="347.20" stroke="#000" stroke-width="0.7" />
<line x1="299.30" y1="343.20" x2="302.90" y2="343.20" stroke="#000" stroke-width="0.7" />
<line x1="299.30" y1="347.20" x2="302.90" y2="347.20" stroke="#000" stroke-width="0.7" />
<polygon points="267.70,331.70 272.30,331.70 270.00,335.80" fill="#000"/>
<polygon points="277.80,338.30 282.40,338.30 280.10,342.40" fill="#000"/>
<polygon points="288.40,341.50 293.00,341.50 290.70,345.60" fill="#000"/>
<polygon points="298.80,343.50 303.40,343.50 301.10,347.60" fill="#000"/>
<polygon points="309.70,352.50 314.30,352.50 312.00,356.60" fill="#000"/>
<polygon points="319.70,362.10 324.30,362.10 322.00,366.20" fill="#000"/>
<polygon points="330.40,370.50 335.00,370.50 332.70,374.60" fill="#000"/>
<polygon points="340.30,373.80 344.90,373.80 342.60,377.90" fill="#000"/>
<polyline points="270.00,333.20 280.10,338.60 290.70,337.60 301.10,341.30 312.00,342.60 322.00,345.70 332.70,346.60 342.60,347.00" fill="none" stroke="#000" stroke-width="1.0"/>
<line x1="270.00" y1="329.20" x2="270.00" y2="337.20" stroke="#000" stroke-width="0.7" />
<line x1="268.20" y1="329.20" x2="271.80" y2="329.20" stroke="#000" stroke-width="0.7" />
<line x1="268.20" y1="337.20" x2="271.80" y2="337.20" stroke="#000" stroke-width="0.7" />
<line x1="280.10" y1="336.60" x2="280.10" y2="340.60" stroke="#000" stroke-width="0.7" />
<line x1="278.30" y1="336.60" x2="281.90" y2="336.60" stroke="#000" stroke-width="0.7" />
<line x1="278.30" y1="340.60" x2="281.90" y2="340.60" stroke="#000" stroke-width="0.7" />
<line x1="290.70" y1="334.00" x2="290.70" y2="341.20" stroke="#000" stroke-width="0.7" />
<line x1="288.90" y1="334.00" x2="292.50" y2="334.00" stroke="#000" stroke-width="0.7" />
<line x1="288.90" y1="341.20" x2="292.50" y2="341.20" stroke="#000" stroke-width="0.7" />
<line x1="312.00" y1="341.10" x2="312.00" y2="344.10" stroke="#000" stroke-width="0.7" />
<line x1="310.20" y1="341.10" x2="313.80" y2="341.10" stroke="#000" stroke-width="0.7" />
<line x1="310.20" y1="344.10" x2="313.80" y2="344.10" stroke="#000" stroke-width="0.7" />
<line x1="322.00" y1="343.50" x2="322.00" y2="347.90" stroke="#000" stroke-width="0.7" />
<line x1="320.20" y1="343.50" x2="323.80" y2="343.50" stroke="#000" stroke-width="0.7" />
<line x1="320.20" y1="347.90" x2="323.80" y2="347.90" stroke="#000" stroke-width="0.7" />
<circle cx="270.00" cy="333.20" r="2.1" fill="#000"/>
<circle cx="280.10" cy="338.60" r="2.1" fill="#000"/>
<circle cx="290.70" cy="337.60" r="2.1" fill="#000"/>
<circle cx="301.10" cy="341.30" r="2.1" fill="#000"/>
<circle cx="312.00" cy="342.60" r="2.1" fill="#000"/>
<circle cx="322.00" cy="345.70" r="2.1" fill="#000"/>
<circle cx="332.70" cy="346.60" r="2.1" fill="#000"/>
<circle cx="342.60" cy="347.00" r="2.1" fill="#000"/>
<line x1="248.40" y1="291.20" x2="255.60" y2="291.20" stroke="#000" stroke-width="0.8" />
<circle cx="252.00" cy="291.20" r="2.1" fill="#000"/>
<text x="258.70" y="293.86" font-size="7.42" stroke="#000" stroke-width="0.4">SM-164 only (XIAP<tspan font-size="5" dy="-2.4">+/+</tspan><tspan dy="2.4">)</tspan></text>
<line x1="248.40" y1="302.00" x2="255.60" y2="302.00" stroke="#000" stroke-width="0.8" />
<polygon points="249.70,300.30 254.30,300.30 252.00,304.40" fill="#000"/>
<text x="258.70" y="304.66" font-size="7.42" stroke="#000" stroke-width="0.4">SM-164 + TNFα (XIAP<tspan font-size="5" dy="-2.4">+/+</tspan><tspan dy="2.4">)</tspan></text>
<line x1="248.40" y1="312.00" x2="255.60" y2="312.00" stroke="#000" stroke-width="0.8" />
<circle cx="252.00" cy="312.00" r="1.8" fill="#fff" stroke="#000" stroke-width="0.8"/>
<text x="258.70" y="314.66" font-size="7.42" stroke="#000" stroke-width="0.4">SM-164 only (XIAP<tspan font-size="5" dy="-2.4">-/-</tspan><tspan dy="2.4">)</tspan></text>
<line x1="248.40" y1="321.40" x2="255.60" y2="321.40" stroke="#000" stroke-width="0.8" />
<polygon points="249.90,319.80 254.10,319.80 252.00,323.60" fill="#fff" stroke="#000" stroke-width="0.8"/>
<text x="258.70" y="324.06" font-size="7.42" stroke="#000" stroke-width="0.4">SM-164 + TNFα (XIAP<tspan font-size="5" dy="-2.4">-/-</tspan><tspan dy="2.4">)</tspan></text>
</g>
</svg>
</body></html>
